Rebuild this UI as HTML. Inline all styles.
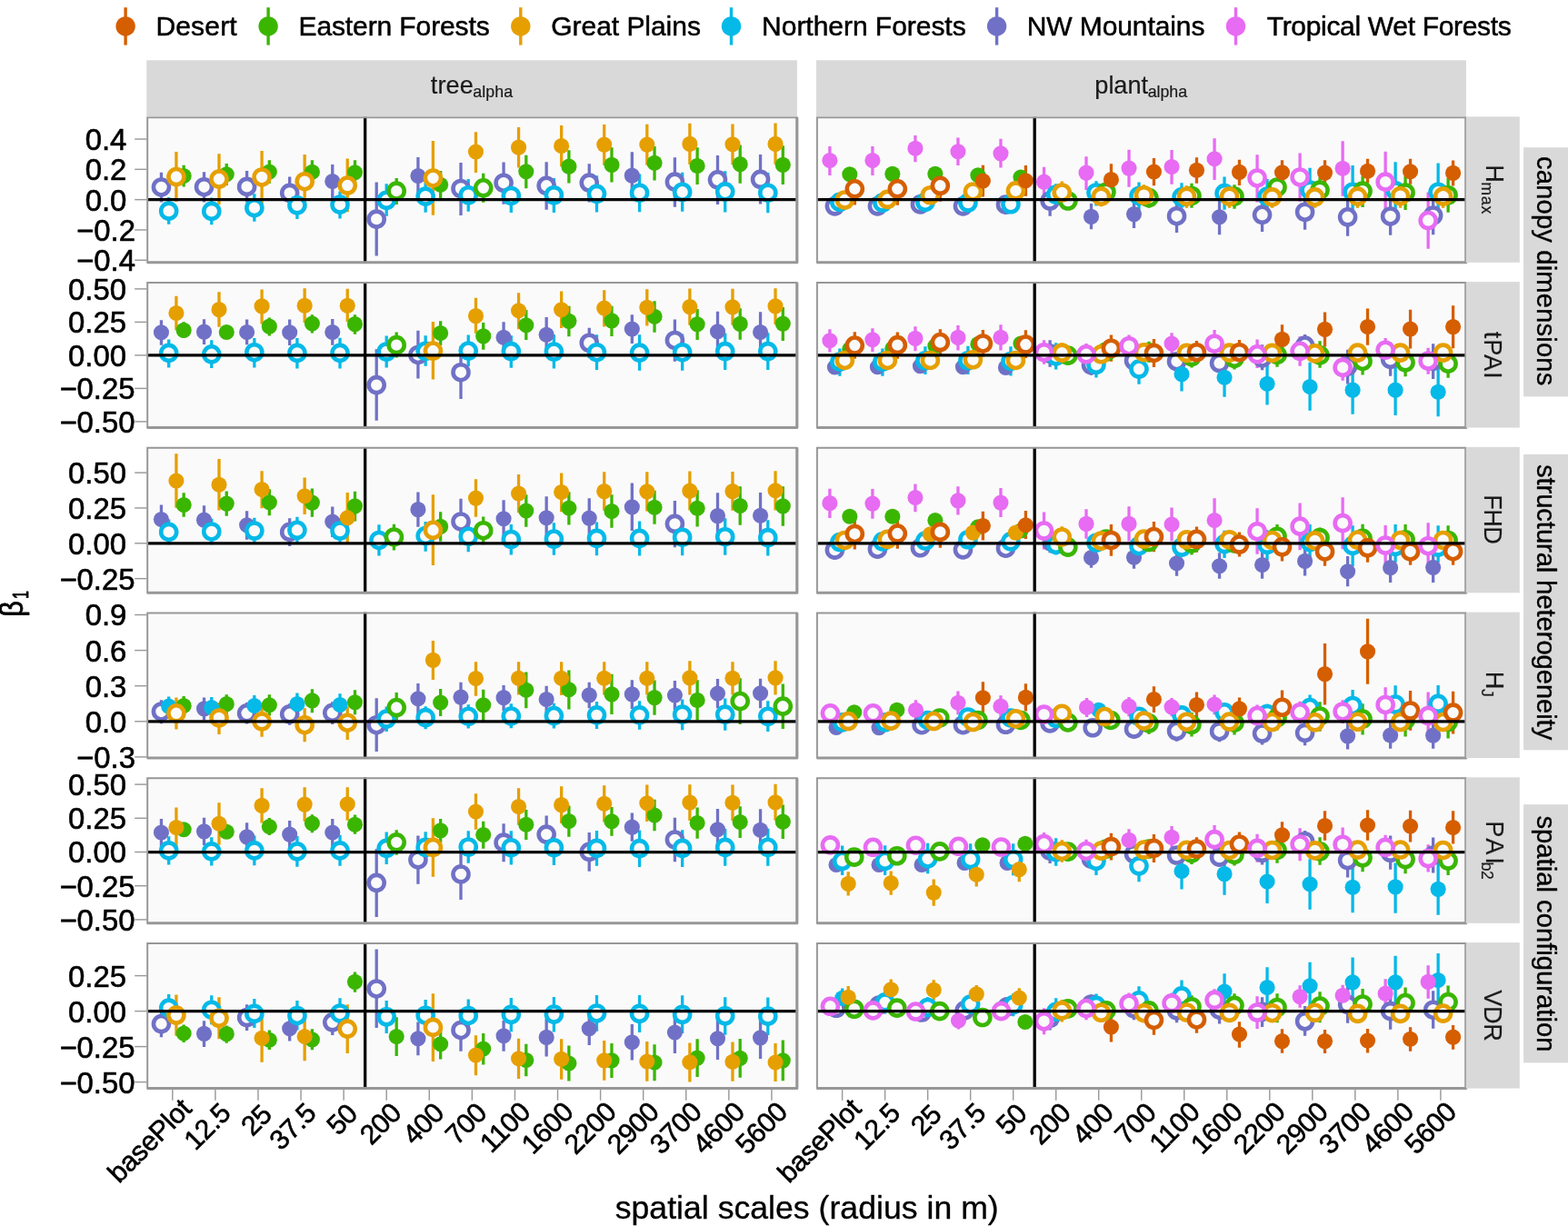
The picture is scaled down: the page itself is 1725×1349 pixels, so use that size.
<!DOCTYPE html>
<html lang="en"><head><meta charset="utf-8"><title>beta1 across spatial scales</title>
<style>html,body{margin:0;padding:0;background:#fff;overflow:hidden}svg{display:block}text{fill:#000;stroke:#000;stroke-width:0.6px;stroke-linejoin:round}.lg text{stroke-width:0.5px}.ti{stroke-width:0.35px}.bt{stroke-width:0.9px}.st text{fill:#1a1a1a;stroke:#1a1a1a;stroke-width:0.2px}.os text{stroke-width:0.35px}</style></head>
<body>
<svg width="1725" height="1349" viewBox="0 0 1725 1349" font-family='"Liberation Sans", Arial, Helvetica, sans-serif'>
<rect width="1725" height="1349" fill="#fff"/>
<g class="panel">
<rect x="161.3" y="128.45" width="715.5" height="160.25" fill="#FAFAFA"/>
<path d="M177.44 189.7V222.39M224.52 189.28V222.39M271.6 188.03V222.39M318.68 194.57V230.04M365.76 180.93V218.22M414.21 200.41V281.52M459.92 173V214.04M507 178.98V237M554.08 178.57V224.76M601.16 178.29V230.74M648.24 180.23V222.39M695.32 167.16V219.61M742.4 173.28V227.68M789.48 170.91V224.9M836.56 169.94V224.48" stroke="#7071C6" stroke-width="3.3" fill="none"/>
<path d="M185.68 217.1V246.74M232.76 217.52V247.16M279.84 213.35V243.68M326.92 210.57V240.9M374 210.57V240.48M425.2 202.22V237.7M468.16 198.74V233.8M515.24 197.07V232.83M562.32 197.07V233.94M609.4 195.96V233.94M656.48 193.17V233.52M703.56 191.5V233.24M750.64 189.7V232.83M797.72 188.3V233.52M844.8 190.11V234.22" stroke="#05B9E8" stroke-width="3.3" fill="none"/>
<path d="M202.16 181.77V205.42M249.24 179.96V204.03M296.32 176.2V201.8M343.4 176.2V202.22M390.48 176.2V202.91M436.19 195.96V224.9M484.64 187.89V217.94M531.72 190.81V222.81M578.8 170.63V207.37M625.88 165.35V201.52M672.96 162.29V200.41M720.04 160.9V198.46M767.12 162.29V202.91M814.2 159.5V201.8M861.28 160.2V202.91" stroke="#3AB600" stroke-width="3.3" fill="none"/>
<path d="M193.92 167.02V221.97M241 169.24V224.9M288.08 166.04V224.48M335.16 169.94V229.35M382.24 174.39V233.24M476.4 154.91V236.72M523.48 145.17V189.97M570.56 140.03V184.55M617.64 137.94V183.16M664.72 137.1V181.77M711.8 136.83V181.77M758.88 135.85V181.07M805.96 136.41V181.35M853.04 135.43V180.65" stroke="#E69F00" stroke-width="3.3" fill="none"/>
<g fill="#7071C6" stroke="#7071C6">
<circle cx="177.44" cy="205.97" r="8.5" fill="#FAFAFA" stroke-width="4.6"/>
<circle cx="224.52" cy="205.7" r="8.5" fill="#FAFAFA" stroke-width="4.6"/>
<circle cx="271.6" cy="205.42" r="8.5" fill="#FAFAFA" stroke-width="4.6"/>
<circle cx="318.68" cy="212.37" r="8.5" fill="#FAFAFA" stroke-width="4.6"/>
<circle cx="365.76" cy="199.43" r="8.55" stroke="none"/>
<circle cx="414.21" cy="241.17" r="8.5" fill="#FAFAFA" stroke-width="4.6"/>
<circle cx="459.92" cy="193.45" r="8.55" stroke="none"/>
<circle cx="507" cy="207.5" r="8.5" fill="#FAFAFA" stroke-width="4.6"/>
<circle cx="554.08" cy="201.24" r="8.5" fill="#FAFAFA" stroke-width="4.6"/>
<circle cx="601.16" cy="204.3" r="8.5" fill="#FAFAFA" stroke-width="4.6"/>
<circle cx="648.24" cy="201.1" r="8.5" fill="#FAFAFA" stroke-width="4.6"/>
<circle cx="695.32" cy="193.17" r="8.55" stroke="none"/>
<circle cx="742.4" cy="200.13" r="8.5" fill="#FAFAFA" stroke-width="4.6"/>
<circle cx="789.48" cy="197.77" r="8.5" fill="#FAFAFA" stroke-width="4.6"/>
<circle cx="836.56" cy="197.35" r="8.5" fill="#FAFAFA" stroke-width="4.6"/>
</g>
<g fill="#05B9E8" stroke="#05B9E8">
<circle cx="185.68" cy="232.13" r="8.5" fill="#FAFAFA" stroke-width="4.6"/>
<circle cx="232.76" cy="232.41" r="8.5" fill="#FAFAFA" stroke-width="4.6"/>
<circle cx="279.84" cy="228.65" r="8.5" fill="#FAFAFA" stroke-width="4.6"/>
<circle cx="326.92" cy="225.87" r="8.5" fill="#FAFAFA" stroke-width="4.6"/>
<circle cx="374" cy="225.17" r="8.5" fill="#FAFAFA" stroke-width="4.6"/>
<circle cx="425.2" cy="220.3" r="8.5" fill="#FAFAFA" stroke-width="4.6"/>
<circle cx="468.16" cy="216.13" r="8.5" fill="#FAFAFA" stroke-width="4.6"/>
<circle cx="515.24" cy="214.74" r="8.5" fill="#FAFAFA" stroke-width="4.6"/>
<circle cx="562.32" cy="215.43" r="8.5" fill="#FAFAFA" stroke-width="4.6"/>
<circle cx="609.4" cy="214.74" r="8.5" fill="#FAFAFA" stroke-width="4.6"/>
<circle cx="656.48" cy="213.35" r="8.5" fill="#FAFAFA" stroke-width="4.6"/>
<circle cx="703.56" cy="212.23" r="8.5" fill="#FAFAFA" stroke-width="4.6"/>
<circle cx="750.64" cy="211.26" r="8.5" fill="#FAFAFA" stroke-width="4.6"/>
<circle cx="797.72" cy="210.84" r="8.5" fill="#FAFAFA" stroke-width="4.6"/>
<circle cx="844.8" cy="212.23" r="8.5" fill="#FAFAFA" stroke-width="4.6"/>
</g>
<g fill="#3AB600" stroke="#3AB600">
<circle cx="202.16" cy="193.45" r="8.55" stroke="none"/>
<circle cx="249.24" cy="191.78" r="8.55" stroke="none"/>
<circle cx="296.32" cy="189" r="8.55" stroke="none"/>
<circle cx="343.4" cy="189.28" r="8.55" stroke="none"/>
<circle cx="390.48" cy="189.7" r="8.55" stroke="none"/>
<circle cx="436.19" cy="210.15" r="8.5" fill="#FAFAFA" stroke-width="4.6"/>
<circle cx="484.64" cy="203.19" r="8.55" stroke="none"/>
<circle cx="531.72" cy="206.81" r="8.5" fill="#FAFAFA" stroke-width="4.6"/>
<circle cx="578.8" cy="188.72" r="8.55" stroke="none"/>
<circle cx="625.88" cy="183.16" r="8.55" stroke="none"/>
<circle cx="672.96" cy="181.35" r="8.55" stroke="none"/>
<circle cx="720.04" cy="179.26" r="8.55" stroke="none"/>
<circle cx="767.12" cy="182.46" r="8.55" stroke="none"/>
<circle cx="814.2" cy="180.65" r="8.55" stroke="none"/>
<circle cx="861.28" cy="181.35" r="8.55" stroke="none"/>
</g>
<g fill="#E69F00" stroke="#E69F00">
<circle cx="193.92" cy="194.57" r="8.5" fill="#FAFAFA" stroke-width="4.6"/>
<circle cx="241" cy="197.07" r="8.5" fill="#FAFAFA" stroke-width="4.6"/>
<circle cx="288.08" cy="194.98" r="8.5" fill="#FAFAFA" stroke-width="4.6"/>
<circle cx="335.16" cy="199.71" r="8.5" fill="#FAFAFA" stroke-width="4.6"/>
<circle cx="382.24" cy="204.03" r="8.5" fill="#FAFAFA" stroke-width="4.6"/>
<circle cx="476.4" cy="195.96" r="8.5" fill="#FAFAFA" stroke-width="4.6"/>
<circle cx="523.48" cy="167.02" r="8.55" stroke="none"/>
<circle cx="570.56" cy="162.15" r="8.55" stroke="none"/>
<circle cx="617.64" cy="160.48" r="8.55" stroke="none"/>
<circle cx="664.72" cy="159.09" r="8.55" stroke="none"/>
<circle cx="711.8" cy="159.09" r="8.55" stroke="none"/>
<circle cx="758.88" cy="158.39" r="8.55" stroke="none"/>
<circle cx="805.96" cy="158.81" r="8.55" stroke="none"/>
<circle cx="853.04" cy="158.39" r="8.55" stroke="none"/>
</g>
<path d="M162.2 219.65H876.8" stroke="#000" stroke-width="3.25"/>
<path d="M401.66 128.45V288.7" stroke="#000" stroke-width="3.3"/>
<path d="M162.2 288.7V129.2H876.8" stroke="#979797" stroke-width="1.95" fill="none"/>
<path d="M162.8 288.7H876.8V129.85" stroke="#979797" stroke-width="3.15" fill="none" stroke-linejoin="round" stroke-linecap="round"/>
</g>
<g class="panel">
<rect x="898" y="128.45" width="714.8" height="160.25" fill="#FAFAFA"/>
<path d="M918.37 221.97V231.71M965.39 221.97V231.71M1012.41 220.03V229.77M1059.43 221.97V231.71M1106.45 220.3V230.04M1155.12 204.3V237.7M1200.49 224.06V252.3M1247.51 221V250.91M1294.53 222.39V256.06M1341.55 221V258.29M1388.57 221V255.09M1435.59 216.83V252.72M1482.61 221V259.68M1529.63 219.61V258.84M1576.65 218.22V258.29" stroke="#7071C6" stroke-width="3.3" fill="none"/>
<path d="M923.86 217.52V227.26M970.88 218.22V227.96M1017.9 217.52V227.26M1064.92 218.22V227.96M1111.94 219.89V229.63M1161.7 202.22V225.87M1205.98 199.16V226.57M1253 200.41V230.74M1300.02 201.24V228.65M1347.04 194.57V230.74M1394.06 197.07V234.91M1441.08 184.83V233.52M1488.1 182.04V240.48M1535.12 178.15V241.87M1582.14 179.54V243.26" stroke="#05B9E8" stroke-width="3.3" fill="none"/>
<path d="M934.83 186.91V196.65M981.85 186.5V196.23M1028.87 186.5V196.23M1075.89 187.89V197.63M1122.91 190.11V199.85M1174.87 216.13V225.87M1216.95 202.22V220.3M1263.97 206.39V228.65M1310.99 201.8V228.65M1358.01 203.19V229.63M1405.03 201.1V210.84M1452.05 195.26V222.39M1499.07 193.87V227.96M1546.09 193.87V231.02M1593.11 195.96V233.8" stroke="#3AB600" stroke-width="3.3" fill="none"/>
<path d="M929.34 215.16V224.9M976.36 214.46V224.2M1023.38 209.87V219.61M1070.4 206.11V215.85M1117.42 205V214.74M1168.28 199.43V224.48M1211.46 205V227.26M1258.48 203.19V226.57M1305.5 204.3V228.65M1352.52 205V228.65M1399.54 205V228.65M1446.56 205V228.65M1493.58 203.61V228.65M1540.6 202.77V228.65M1587.62 203.61V228.65" stroke="#E69F00" stroke-width="3.3" fill="none"/>
<path d="M940.31 190.11V225.45M987.33 189.7V225.87M1034.35 186.91V221.7M1081.37 181.77V216.41M1128.39 182.04V215.85M1222.43 180.37V214.04M1269.45 174.11V204.3M1316.47 173.28V201.8M1363.49 175.78V203.89M1410.51 176.2V202.91M1457.53 176.2V203.61M1504.55 174.81V201.52M1551.57 174.81V202.63M1598.59 176.48V204.58" stroke="#D55E00" stroke-width="3.3" fill="none"/>
<path d="M912.89 160.9V192.9M959.91 160.9V192.9M1006.93 148.93V178.15M1053.95 151.43V182.04M1100.97 152.83V184.55M1148.53 183.71V215.43M1195.01 172.3V208.9M1242.03 164.65V205.7M1289.05 165.07V202.63M1336.07 152.13V198.04M1383.09 170.22V222.39M1430.11 168.41V221.7M1477.13 155.19V215.85M1524.15 166.74V233.52M1571.17 211.54V273.87" stroke="#E76BF3" stroke-width="3.3" fill="none"/>
<g fill="#7071C6" stroke="#7071C6">
<circle cx="918.37" cy="226.84" r="8.5" fill="#FAFAFA" stroke-width="4.6"/>
<circle cx="965.39" cy="226.84" r="8.5" fill="#FAFAFA" stroke-width="4.6"/>
<circle cx="1012.41" cy="224.9" r="8.5" fill="#FAFAFA" stroke-width="4.6"/>
<circle cx="1059.43" cy="226.84" r="8.5" fill="#FAFAFA" stroke-width="4.6"/>
<circle cx="1106.45" cy="225.17" r="8.5" fill="#FAFAFA" stroke-width="4.6"/>
<circle cx="1155.12" cy="221" r="8.5" fill="#FAFAFA" stroke-width="4.6"/>
<circle cx="1200.49" cy="238.39" r="8.55" stroke="none"/>
<circle cx="1247.51" cy="235.61" r="8.55" stroke="none"/>
<circle cx="1294.53" cy="237.7" r="8.5" fill="#FAFAFA" stroke-width="4.6"/>
<circle cx="1341.55" cy="238.81" r="8.55" stroke="none"/>
<circle cx="1388.57" cy="236.3" r="8.5" fill="#FAFAFA" stroke-width="4.6"/>
<circle cx="1435.59" cy="233.24" r="8.5" fill="#FAFAFA" stroke-width="4.6"/>
<circle cx="1482.61" cy="238.81" r="8.5" fill="#FAFAFA" stroke-width="4.6"/>
<circle cx="1529.63" cy="237.97" r="8.5" fill="#FAFAFA" stroke-width="4.6"/>
<circle cx="1576.65" cy="237" r="8.5" fill="#FAFAFA" stroke-width="4.6"/>
</g>
<g fill="#05B9E8" stroke="#05B9E8">
<circle cx="923.86" cy="222.39" r="8.5" fill="#FAFAFA" stroke-width="4.6"/>
<circle cx="970.88" cy="223.09" r="8.5" fill="#FAFAFA" stroke-width="4.6"/>
<circle cx="1017.9" cy="222.39" r="8.5" fill="#FAFAFA" stroke-width="4.6"/>
<circle cx="1064.92" cy="223.09" r="8.5" fill="#FAFAFA" stroke-width="4.6"/>
<circle cx="1111.94" cy="224.76" r="8.5" fill="#FAFAFA" stroke-width="4.6"/>
<circle cx="1161.7" cy="214.04" r="8.5" fill="#FAFAFA" stroke-width="4.6"/>
<circle cx="1205.98" cy="211.96" r="8.5" fill="#FAFAFA" stroke-width="4.6"/>
<circle cx="1253" cy="215.43" r="8.5" fill="#FAFAFA" stroke-width="4.6"/>
<circle cx="1300.02" cy="216.83" r="8.5" fill="#FAFAFA" stroke-width="4.6"/>
<circle cx="1347.04" cy="212.65" r="8.5" fill="#FAFAFA" stroke-width="4.6"/>
<circle cx="1394.06" cy="216.13" r="8.5" fill="#FAFAFA" stroke-width="4.6"/>
<circle cx="1441.08" cy="209.17" r="8.5" fill="#FAFAFA" stroke-width="4.6"/>
<circle cx="1488.1" cy="211.26" r="8.5" fill="#FAFAFA" stroke-width="4.6"/>
<circle cx="1535.12" cy="209.87" r="8.5" fill="#FAFAFA" stroke-width="4.6"/>
<circle cx="1582.14" cy="211.26" r="8.5" fill="#FAFAFA" stroke-width="4.6"/>
</g>
<g fill="#3AB600" stroke="#3AB600">
<circle cx="934.83" cy="191.78" r="8.55" stroke="none"/>
<circle cx="981.85" cy="191.37" r="8.55" stroke="none"/>
<circle cx="1028.87" cy="191.37" r="8.55" stroke="none"/>
<circle cx="1075.89" cy="192.76" r="8.55" stroke="none"/>
<circle cx="1122.91" cy="194.98" r="8.55" stroke="none"/>
<circle cx="1174.87" cy="221" r="8.5" fill="#FAFAFA" stroke-width="4.6"/>
<circle cx="1216.95" cy="211.26" r="8.5" fill="#FAFAFA" stroke-width="4.6"/>
<circle cx="1263.97" cy="217.52" r="8.5" fill="#FAFAFA" stroke-width="4.6"/>
<circle cx="1310.99" cy="215.43" r="8.5" fill="#FAFAFA" stroke-width="4.6"/>
<circle cx="1358.01" cy="216.13" r="8.5" fill="#FAFAFA" stroke-width="4.6"/>
<circle cx="1405.03" cy="205.97" r="8.5" fill="#FAFAFA" stroke-width="4.6"/>
<circle cx="1452.05" cy="209.17" r="8.5" fill="#FAFAFA" stroke-width="4.6"/>
<circle cx="1499.07" cy="210.15" r="8.5" fill="#FAFAFA" stroke-width="4.6"/>
<circle cx="1546.09" cy="211.96" r="8.5" fill="#FAFAFA" stroke-width="4.6"/>
<circle cx="1593.11" cy="214.74" r="8.5" fill="#FAFAFA" stroke-width="4.6"/>
</g>
<g fill="#E69F00" stroke="#E69F00">
<circle cx="929.34" cy="220.03" r="8.5" fill="#FAFAFA" stroke-width="4.6"/>
<circle cx="976.36" cy="219.33" r="8.5" fill="#FAFAFA" stroke-width="4.6"/>
<circle cx="1023.38" cy="214.74" r="8.5" fill="#FAFAFA" stroke-width="4.6"/>
<circle cx="1070.4" cy="210.98" r="8.5" fill="#FAFAFA" stroke-width="4.6"/>
<circle cx="1117.42" cy="209.87" r="8.5" fill="#FAFAFA" stroke-width="4.6"/>
<circle cx="1168.28" cy="211.96" r="8.5" fill="#FAFAFA" stroke-width="4.6"/>
<circle cx="1211.46" cy="216.13" r="8.5" fill="#FAFAFA" stroke-width="4.6"/>
<circle cx="1258.48" cy="214.74" r="8.5" fill="#FAFAFA" stroke-width="4.6"/>
<circle cx="1305.5" cy="216.13" r="8.5" fill="#FAFAFA" stroke-width="4.6"/>
<circle cx="1352.52" cy="216.13" r="8.5" fill="#FAFAFA" stroke-width="4.6"/>
<circle cx="1399.54" cy="216.83" r="8.5" fill="#FAFAFA" stroke-width="4.6"/>
<circle cx="1446.56" cy="216.83" r="8.5" fill="#FAFAFA" stroke-width="4.6"/>
<circle cx="1493.58" cy="216.13" r="8.5" fill="#FAFAFA" stroke-width="4.6"/>
<circle cx="1540.6" cy="215.71" r="8.5" fill="#FAFAFA" stroke-width="4.6"/>
<circle cx="1587.62" cy="216.13" r="8.5" fill="#FAFAFA" stroke-width="4.6"/>
</g>
<g fill="#D55E00" stroke="#D55E00">
<circle cx="940.31" cy="207.78" r="8.5" fill="#FAFAFA" stroke-width="4.6"/>
<circle cx="987.33" cy="207.78" r="8.5" fill="#FAFAFA" stroke-width="4.6"/>
<circle cx="1034.35" cy="204.3" r="8.5" fill="#FAFAFA" stroke-width="4.6"/>
<circle cx="1081.37" cy="199.02" r="8.55" stroke="none"/>
<circle cx="1128.39" cy="198.74" r="8.55" stroke="none"/>
<circle cx="1222.43" cy="197.63" r="8.55" stroke="none"/>
<circle cx="1269.45" cy="189" r="8.55" stroke="none"/>
<circle cx="1316.47" cy="187.19" r="8.55" stroke="none"/>
<circle cx="1363.49" cy="189.42" r="8.55" stroke="none"/>
<circle cx="1410.51" cy="189.7" r="8.55" stroke="none"/>
<circle cx="1457.53" cy="190.11" r="8.55" stroke="none"/>
<circle cx="1504.55" cy="188.3" r="8.55" stroke="none"/>
<circle cx="1551.57" cy="188.72" r="8.55" stroke="none"/>
<circle cx="1598.59" cy="190.39" r="8.55" stroke="none"/>
</g>
<g fill="#E76BF3" stroke="#E76BF3">
<circle cx="912.89" cy="176.48" r="8.55" stroke="none"/>
<circle cx="959.91" cy="176.48" r="8.55" stroke="none"/>
<circle cx="1006.93" cy="163.26" r="8.55" stroke="none"/>
<circle cx="1053.95" cy="166.74" r="8.55" stroke="none"/>
<circle cx="1100.97" cy="168.83" r="8.55" stroke="none"/>
<circle cx="1148.53" cy="200.13" r="8.55" stroke="none"/>
<circle cx="1195.01" cy="190.11" r="8.55" stroke="none"/>
<circle cx="1242.03" cy="185.1" r="8.55" stroke="none"/>
<circle cx="1289.05" cy="183.43" r="8.55" stroke="none"/>
<circle cx="1336.07" cy="174.81" r="8.55" stroke="none"/>
<circle cx="1383.09" cy="195.96" r="8.5" fill="#FAFAFA" stroke-width="4.6"/>
<circle cx="1430.11" cy="194.98" r="8.5" fill="#FAFAFA" stroke-width="4.6"/>
<circle cx="1477.13" cy="185.24" r="8.55" stroke="none"/>
<circle cx="1524.15" cy="200.13" r="8.5" fill="#FAFAFA" stroke-width="4.6"/>
<circle cx="1571.17" cy="242.57" r="8.5" fill="#FAFAFA" stroke-width="4.6"/>
</g>
<path d="M898.9 219.65H1612.8" stroke="#000" stroke-width="3.25"/>
<path d="M1138.19 128.45V288.7" stroke="#000" stroke-width="3.3"/>
<path d="M898.9 288.7V129.2H1612.8" stroke="#979797" stroke-width="1.95" fill="none"/>
<path d="M899.5 288.7H1612.8V129.85" stroke="#979797" stroke-width="3.15" fill="none" stroke-linejoin="round" stroke-linecap="round"/>
</g>
<path d="M148.2 153.05H161.4" stroke="#9a9a9a" stroke-width="1.45"/>
<text x="116.5" y="164.95" font-size="32.9" text-anchor="middle">0.4</text>
<path d="M148.2 186.35H161.4" stroke="#9a9a9a" stroke-width="1.45"/>
<text x="116.5" y="198.25" font-size="32.9" text-anchor="middle">0.2</text>
<path d="M148.2 219.65H161.4" stroke="#9a9a9a" stroke-width="1.45"/>
<text x="116.5" y="231.55" font-size="32.9" text-anchor="middle">0.0</text>
<path d="M148.2 252.95H161.4" stroke="#9a9a9a" stroke-width="1.45"/>
<text x="116.5" y="264.85" font-size="32.9" text-anchor="middle">−0.2</text>
<path d="M148.2 286.25H161.4" stroke="#9a9a9a" stroke-width="1.45"/>
<text x="116.5" y="298.15" font-size="32.9" text-anchor="middle">−0.4</text>
<g class="panel">
<rect x="161.3" y="310.2" width="715.5" height="160.25" fill="#FAFAFA"/>
<path d="M177.44 352.22V379.63M224.52 351.24V379.07M271.6 351.52V379.35M318.68 351.52V380.04M365.76 351.1V379.77M414.21 384.22V462.83M459.92 363.63V416.5M507 380.74V438.9M554.08 354.3V388.39M601.16 349.02V387.7M648.24 360.84V393.96M695.32 346.23V377.96M742.4 351.52V397.71M789.48 342.76V386.3M836.56 343.17V387.7" stroke="#7071C6" stroke-width="3.3" fill="none"/>
<path d="M185.68 373.5V404.39M232.76 374.2V405.09M279.84 372.11V404.39M326.92 372.11V405.5M374 371.7V405.5M425.2 369.61V404.39M468.16 369.33V402.72M515.24 368.5V403M562.32 369.33V404.81M609.4 368.22V405.5M656.48 368.22V406.9M703.56 368.22V407.87M750.64 367.52V407.87M797.72 366.55V406.9M844.8 366.13V406.9" stroke="#05B9E8" stroke-width="3.3" fill="none"/>
<path d="M202.16 354.3V372.11M249.24 360.57V370.3M296.32 349.43V369.61M343.4 346.23V366.55M390.48 346.23V367.8M436.19 365.43V393.54M484.64 353.33V380.04M531.72 355V384.63M578.8 341.09V374.06M625.88 336.63V370.3M672.96 336.63V369.89M720.04 331.35V365.85M767.12 340.11V374.06M814.2 339.28V373.78M861.28 338.03V374.9" stroke="#3AB600" stroke-width="3.3" fill="none"/>
<path d="M193.92 325.78V363.35M241 321.19V359.87M288.08 318.41V356.39M335.16 317.16V355M382.24 317.85V354.3M476.4 354.03V417.61M523.48 327.87V366.83M570.56 322.3V362.37M617.64 320.5V360.98M664.72 319.24V359.59M711.8 318.13V358.48M758.88 317.43V357.78M805.96 317.85V357.78M853.04 317.16V357.09" stroke="#E69F00" stroke-width="3.3" fill="none"/>
<g fill="#7071C6" stroke="#7071C6">
<circle cx="177.44" cy="365.71" r="8.55" stroke="none"/>
<circle cx="224.52" cy="365.16" r="8.55" stroke="none"/>
<circle cx="271.6" cy="365.43" r="8.55" stroke="none"/>
<circle cx="318.68" cy="365.71" r="8.55" stroke="none"/>
<circle cx="365.76" cy="365.43" r="8.55" stroke="none"/>
<circle cx="414.21" cy="423.59" r="8.5" fill="#FAFAFA" stroke-width="4.6"/>
<circle cx="459.92" cy="390.48" r="8.5" fill="#FAFAFA" stroke-width="4.6"/>
<circle cx="507" cy="409.68" r="8.5" fill="#FAFAFA" stroke-width="4.6"/>
<circle cx="554.08" cy="371.28" r="8.55" stroke="none"/>
<circle cx="601.16" cy="368.22" r="8.55" stroke="none"/>
<circle cx="648.24" cy="377.26" r="8.5" fill="#FAFAFA" stroke-width="4.6"/>
<circle cx="695.32" cy="361.96" r="8.55" stroke="none"/>
<circle cx="742.4" cy="374.48" r="8.5" fill="#FAFAFA" stroke-width="4.6"/>
<circle cx="789.48" cy="364.74" r="8.55" stroke="none"/>
<circle cx="836.56" cy="365.43" r="8.55" stroke="none"/>
</g>
<g fill="#05B9E8" stroke="#05B9E8">
<circle cx="185.68" cy="388.39" r="8.5" fill="#FAFAFA" stroke-width="4.6"/>
<circle cx="232.76" cy="389.78" r="8.5" fill="#FAFAFA" stroke-width="4.6"/>
<circle cx="279.84" cy="387.7" r="8.5" fill="#FAFAFA" stroke-width="4.6"/>
<circle cx="326.92" cy="388.39" r="8.5" fill="#FAFAFA" stroke-width="4.6"/>
<circle cx="374" cy="388.39" r="8.5" fill="#FAFAFA" stroke-width="4.6"/>
<circle cx="425.2" cy="387" r="8.5" fill="#FAFAFA" stroke-width="4.6"/>
<circle cx="468.16" cy="386.3" r="8.5" fill="#FAFAFA" stroke-width="4.6"/>
<circle cx="515.24" cy="386.03" r="8.5" fill="#FAFAFA" stroke-width="4.6"/>
<circle cx="562.32" cy="386.58" r="8.5" fill="#FAFAFA" stroke-width="4.6"/>
<circle cx="609.4" cy="387" r="8.5" fill="#FAFAFA" stroke-width="4.6"/>
<circle cx="656.48" cy="387.7" r="8.5" fill="#FAFAFA" stroke-width="4.6"/>
<circle cx="703.56" cy="388.11" r="8.5" fill="#FAFAFA" stroke-width="4.6"/>
<circle cx="750.64" cy="387.7" r="8.5" fill="#FAFAFA" stroke-width="4.6"/>
<circle cx="797.72" cy="386.58" r="8.5" fill="#FAFAFA" stroke-width="4.6"/>
<circle cx="844.8" cy="386.58" r="8.5" fill="#FAFAFA" stroke-width="4.6"/>
</g>
<g fill="#3AB600" stroke="#3AB600">
<circle cx="202.16" cy="363.35" r="8.55" stroke="none"/>
<circle cx="249.24" cy="365.43" r="8.55" stroke="none"/>
<circle cx="296.32" cy="359.17" r="8.55" stroke="none"/>
<circle cx="343.4" cy="355.97" r="8.55" stroke="none"/>
<circle cx="390.48" cy="356.67" r="8.55" stroke="none"/>
<circle cx="436.19" cy="379.63" r="8.5" fill="#FAFAFA" stroke-width="4.6"/>
<circle cx="484.64" cy="366.55" r="8.55" stroke="none"/>
<circle cx="531.72" cy="369.89" r="8.55" stroke="none"/>
<circle cx="578.8" cy="357.78" r="8.55" stroke="none"/>
<circle cx="625.88" cy="353.33" r="8.55" stroke="none"/>
<circle cx="672.96" cy="352.91" r="8.55" stroke="none"/>
<circle cx="720.04" cy="348.32" r="8.55" stroke="none"/>
<circle cx="767.12" cy="356.81" r="8.55" stroke="none"/>
<circle cx="814.2" cy="356.39" r="8.55" stroke="none"/>
<circle cx="861.28" cy="356.11" r="8.55" stroke="none"/>
</g>
<g fill="#E69F00" stroke="#E69F00">
<circle cx="193.92" cy="344.57" r="8.55" stroke="none"/>
<circle cx="241" cy="340.67" r="8.55" stroke="none"/>
<circle cx="288.08" cy="336.91" r="8.55" stroke="none"/>
<circle cx="335.16" cy="336.22" r="8.55" stroke="none"/>
<circle cx="382.24" cy="336.22" r="8.55" stroke="none"/>
<circle cx="476.4" cy="386.03" r="8.5" fill="#FAFAFA" stroke-width="4.6"/>
<circle cx="523.48" cy="347.63" r="8.55" stroke="none"/>
<circle cx="570.56" cy="341.78" r="8.55" stroke="none"/>
<circle cx="617.64" cy="340.81" r="8.55" stroke="none"/>
<circle cx="664.72" cy="339" r="8.55" stroke="none"/>
<circle cx="711.8" cy="338.3" r="8.55" stroke="none"/>
<circle cx="758.88" cy="337.61" r="8.55" stroke="none"/>
<circle cx="805.96" cy="337.89" r="8.55" stroke="none"/>
<circle cx="853.04" cy="336.91" r="8.55" stroke="none"/>
</g>
<path d="M162.2 390.9H876.8" stroke="#000" stroke-width="3.25"/>
<path d="M401.66 310.2V470.45" stroke="#000" stroke-width="3.3"/>
<path d="M162.2 470.45V310.95H876.8" stroke="#979797" stroke-width="1.95" fill="none"/>
<path d="M162.8 470.45H876.8V311.6" stroke="#979797" stroke-width="3.15" fill="none" stroke-linejoin="round" stroke-linecap="round"/>
</g>
<g class="panel">
<rect x="898" y="310.2" width="714.8" height="160.25" fill="#FAFAFA"/>
<path d="M918.37 399.1V408.84M965.39 398.83V408.57M1012.41 397.85V407.59M1059.43 398.83V408.57M1106.45 399.52V409.26M1155.12 374.2V403.7M1200.49 390.48V412.74M1247.51 391.87V401.61M1294.53 392.84V402.58M1341.55 394.65V404.39M1388.57 379.35V407.17M1435.59 367.94V392.15M1482.61 384.63V422.48M1529.63 376.84V413.85M1576.65 378.23V416.91" stroke="#7071C6" stroke-width="3.3" fill="none"/>
<path d="M923.86 383.52V413.85M970.88 383.52V413.85M1017.9 381.16V412.04M1064.92 380.74V412.04M1111.94 381.16V413.43M1161.7 377.26V406.48M1205.98 387.14V415.52M1253 389.37V422.76M1300.02 393.26V430.41M1347.04 393.96V436.81M1394.06 398.83V445.43M1441.08 398.83V451.7M1488.1 403V455.87M1535.12 403V456.98M1582.14 404.39V458.37" stroke="#05B9E8" stroke-width="3.3" fill="none"/>
<path d="M934.83 379.35V389.09M981.85 378.65V388.39M1028.87 375.87V385.61M1075.89 373.78V383.52M1122.91 373.09V382.83M1174.87 386.3V396.04M1216.95 377.96V397.43M1263.97 375.87V398.83M1310.99 380.74V404.39M1358.01 382.27V406.48M1405.03 377.26V403.7M1452.05 375.17V404.81M1499.07 382.41V412.46M1546.09 383.52V414.13M1593.11 384.63V415.8" stroke="#3AB600" stroke-width="3.3" fill="none"/>
<path d="M929.34 391.59V401.33M976.36 391.59V401.33M1023.38 391.59V401.33M1070.4 390.9V400.63M1117.42 391.59V401.33M1168.28 377.26V398.83M1211.46 384.91V394.65M1258.48 382.83V392.57M1305.5 383.52V393.26M1352.52 383.24V392.98M1399.54 383.52V393.26M1446.56 383.94V393.68M1493.58 383.24V392.98M1540.6 383.24V392.98M1587.62 383.24V392.98" stroke="#E69F00" stroke-width="3.3" fill="none"/>
<path d="M940.31 365.16V394.65M987.33 365.43V394.65M1034.35 362.37V390.48M1081.37 363.07V392.57M1128.39 363.35V393.96M1222.43 368.5V397.71M1269.45 373.09V404.11M1316.47 374.9V400.5M1363.49 374.06V401.61M1410.51 357.37V389.09M1457.53 343.45V381.43M1504.55 339.42V379.63M1551.57 340.81V383.52M1598.59 336.22V383.24" stroke="#D55E00" stroke-width="3.3" fill="none"/>
<path d="M912.89 362.37V387.42M959.91 361.26V387M1006.93 359.17V386.3M1053.95 358.06V385.61M1100.97 357.37V385.61M1148.53 374.2V400.63M1195.01 377.96V400.22M1242.03 368.5V392.57M1289.05 366.13V389.78M1336.07 363.07V393.26M1383.09 373.5V405.09M1430.11 370.3V402.72M1477.13 390.06V418.72M1524.15 372.11V397.43M1571.17 382.83V411.63" stroke="#E76BF3" stroke-width="3.3" fill="none"/>
<g fill="#7071C6" stroke="#7071C6">
<circle cx="918.37" cy="403.97" r="8.55" stroke="none"/>
<circle cx="965.39" cy="403.7" r="8.55" stroke="none"/>
<circle cx="1012.41" cy="402.72" r="8.55" stroke="none"/>
<circle cx="1059.43" cy="403.7" r="8.55" stroke="none"/>
<circle cx="1106.45" cy="404.39" r="8.55" stroke="none"/>
<circle cx="1155.12" cy="389.09" r="8.5" fill="#FAFAFA" stroke-width="4.6"/>
<circle cx="1200.49" cy="401.61" r="8.5" fill="#FAFAFA" stroke-width="4.6"/>
<circle cx="1247.51" cy="396.74" r="8.5" fill="#FAFAFA" stroke-width="4.6"/>
<circle cx="1294.53" cy="397.71" r="8.5" fill="#FAFAFA" stroke-width="4.6"/>
<circle cx="1341.55" cy="399.52" r="8.5" fill="#FAFAFA" stroke-width="4.6"/>
<circle cx="1388.57" cy="393.96" r="8.5" fill="#FAFAFA" stroke-width="4.6"/>
<circle cx="1435.59" cy="380.04" r="8.5" fill="#FAFAFA" stroke-width="4.6"/>
<circle cx="1482.61" cy="403" r="8.5" fill="#FAFAFA" stroke-width="4.6"/>
<circle cx="1529.63" cy="395.35" r="8.5" fill="#FAFAFA" stroke-width="4.6"/>
<circle cx="1576.65" cy="397.43" r="8.5" fill="#FAFAFA" stroke-width="4.6"/>
</g>
<g fill="#05B9E8" stroke="#05B9E8">
<circle cx="923.86" cy="398.13" r="8.5" fill="#FAFAFA" stroke-width="4.6"/>
<circle cx="970.88" cy="398.13" r="8.5" fill="#FAFAFA" stroke-width="4.6"/>
<circle cx="1017.9" cy="396.74" r="8.5" fill="#FAFAFA" stroke-width="4.6"/>
<circle cx="1064.92" cy="396.74" r="8.5" fill="#FAFAFA" stroke-width="4.6"/>
<circle cx="1111.94" cy="397.43" r="8.5" fill="#FAFAFA" stroke-width="4.6"/>
<circle cx="1161.7" cy="391.87" r="8.5" fill="#FAFAFA" stroke-width="4.6"/>
<circle cx="1205.98" cy="401.33" r="8.5" fill="#FAFAFA" stroke-width="4.6"/>
<circle cx="1253" cy="406.06" r="8.5" fill="#FAFAFA" stroke-width="4.6"/>
<circle cx="1300.02" cy="411.63" r="8.55" stroke="none"/>
<circle cx="1347.04" cy="415.24" r="8.55" stroke="none"/>
<circle cx="1394.06" cy="422.2" r="8.55" stroke="none"/>
<circle cx="1441.08" cy="425.54" r="8.55" stroke="none"/>
<circle cx="1488.1" cy="429.16" r="8.55" stroke="none"/>
<circle cx="1535.12" cy="429.16" r="8.55" stroke="none"/>
<circle cx="1582.14" cy="431.24" r="8.55" stroke="none"/>
</g>
<g fill="#3AB600" stroke="#3AB600">
<circle cx="934.83" cy="384.22" r="8.55" stroke="none"/>
<circle cx="981.85" cy="383.52" r="8.55" stroke="none"/>
<circle cx="1028.87" cy="380.74" r="8.55" stroke="none"/>
<circle cx="1075.89" cy="378.65" r="8.55" stroke="none"/>
<circle cx="1122.91" cy="377.96" r="8.55" stroke="none"/>
<circle cx="1174.87" cy="391.17" r="8.5" fill="#FAFAFA" stroke-width="4.6"/>
<circle cx="1216.95" cy="387" r="8.5" fill="#FAFAFA" stroke-width="4.6"/>
<circle cx="1263.97" cy="387.7" r="8.5" fill="#FAFAFA" stroke-width="4.6"/>
<circle cx="1310.99" cy="392.57" r="8.5" fill="#FAFAFA" stroke-width="4.6"/>
<circle cx="1358.01" cy="394.37" r="8.5" fill="#FAFAFA" stroke-width="4.6"/>
<circle cx="1405.03" cy="390.48" r="8.5" fill="#FAFAFA" stroke-width="4.6"/>
<circle cx="1452.05" cy="390.9" r="8.5" fill="#FAFAFA" stroke-width="4.6"/>
<circle cx="1499.07" cy="397.43" r="8.5" fill="#FAFAFA" stroke-width="4.6"/>
<circle cx="1546.09" cy="398.83" r="8.5" fill="#FAFAFA" stroke-width="4.6"/>
<circle cx="1593.11" cy="400.22" r="8.5" fill="#FAFAFA" stroke-width="4.6"/>
</g>
<g fill="#E69F00" stroke="#E69F00">
<circle cx="929.34" cy="396.46" r="8.5" fill="#FAFAFA" stroke-width="4.6"/>
<circle cx="976.36" cy="396.46" r="8.5" fill="#FAFAFA" stroke-width="4.6"/>
<circle cx="1023.38" cy="396.46" r="8.5" fill="#FAFAFA" stroke-width="4.6"/>
<circle cx="1070.4" cy="395.77" r="8.5" fill="#FAFAFA" stroke-width="4.6"/>
<circle cx="1117.42" cy="396.46" r="8.5" fill="#FAFAFA" stroke-width="4.6"/>
<circle cx="1168.28" cy="388.11" r="8.5" fill="#FAFAFA" stroke-width="4.6"/>
<circle cx="1211.46" cy="389.78" r="8.5" fill="#FAFAFA" stroke-width="4.6"/>
<circle cx="1258.48" cy="387.7" r="8.5" fill="#FAFAFA" stroke-width="4.6"/>
<circle cx="1305.5" cy="388.39" r="8.5" fill="#FAFAFA" stroke-width="4.6"/>
<circle cx="1352.52" cy="388.11" r="8.5" fill="#FAFAFA" stroke-width="4.6"/>
<circle cx="1399.54" cy="388.39" r="8.5" fill="#FAFAFA" stroke-width="4.6"/>
<circle cx="1446.56" cy="388.81" r="8.5" fill="#FAFAFA" stroke-width="4.6"/>
<circle cx="1493.58" cy="388.11" r="8.5" fill="#FAFAFA" stroke-width="4.6"/>
<circle cx="1540.6" cy="388.11" r="8.5" fill="#FAFAFA" stroke-width="4.6"/>
<circle cx="1587.62" cy="388.11" r="8.5" fill="#FAFAFA" stroke-width="4.6"/>
</g>
<g fill="#D55E00" stroke="#D55E00">
<circle cx="940.31" cy="380.04" r="8.5" fill="#FAFAFA" stroke-width="4.6"/>
<circle cx="987.33" cy="379.63" r="8.5" fill="#FAFAFA" stroke-width="4.6"/>
<circle cx="1034.35" cy="376.57" r="8.5" fill="#FAFAFA" stroke-width="4.6"/>
<circle cx="1081.37" cy="377.96" r="8.5" fill="#FAFAFA" stroke-width="4.6"/>
<circle cx="1128.39" cy="379.07" r="8.5" fill="#FAFAFA" stroke-width="4.6"/>
<circle cx="1222.43" cy="383.24" r="8.5" fill="#FAFAFA" stroke-width="4.6"/>
<circle cx="1269.45" cy="388.39" r="8.5" fill="#FAFAFA" stroke-width="4.6"/>
<circle cx="1316.47" cy="387.7" r="8.5" fill="#FAFAFA" stroke-width="4.6"/>
<circle cx="1363.49" cy="387.7" r="8.5" fill="#FAFAFA" stroke-width="4.6"/>
<circle cx="1410.51" cy="373.37" r="8.55" stroke="none"/>
<circle cx="1457.53" cy="362.37" r="8.55" stroke="none"/>
<circle cx="1504.55" cy="359.45" r="8.55" stroke="none"/>
<circle cx="1551.57" cy="361.96" r="8.55" stroke="none"/>
<circle cx="1598.59" cy="359.59" r="8.55" stroke="none"/>
</g>
<g fill="#E76BF3" stroke="#E76BF3">
<circle cx="912.89" cy="374.76" r="8.55" stroke="none"/>
<circle cx="959.91" cy="373.78" r="8.55" stroke="none"/>
<circle cx="1006.93" cy="372.39" r="8.55" stroke="none"/>
<circle cx="1053.95" cy="371.42" r="8.55" stroke="none"/>
<circle cx="1100.97" cy="371.28" r="8.55" stroke="none"/>
<circle cx="1148.53" cy="387.7" r="8.5" fill="#FAFAFA" stroke-width="4.6"/>
<circle cx="1195.01" cy="389.78" r="8.5" fill="#FAFAFA" stroke-width="4.6"/>
<circle cx="1242.03" cy="380.74" r="8.5" fill="#FAFAFA" stroke-width="4.6"/>
<circle cx="1289.05" cy="377.96" r="8.55" stroke="none"/>
<circle cx="1336.07" cy="378.23" r="8.5" fill="#FAFAFA" stroke-width="4.6"/>
<circle cx="1383.09" cy="389.78" r="8.5" fill="#FAFAFA" stroke-width="4.6"/>
<circle cx="1430.11" cy="386.3" r="8.5" fill="#FAFAFA" stroke-width="4.6"/>
<circle cx="1477.13" cy="404.39" r="8.5" fill="#FAFAFA" stroke-width="4.6"/>
<circle cx="1524.15" cy="385.19" r="8.5" fill="#FAFAFA" stroke-width="4.6"/>
<circle cx="1571.17" cy="397.16" r="8.5" fill="#FAFAFA" stroke-width="4.6"/>
</g>
<path d="M898.9 390.9H1612.8" stroke="#000" stroke-width="3.25"/>
<path d="M1138.19 310.2V470.45" stroke="#000" stroke-width="3.3"/>
<path d="M898.9 470.45V310.95H1612.8" stroke="#979797" stroke-width="1.95" fill="none"/>
<path d="M899.5 470.45H1612.8V311.6" stroke="#979797" stroke-width="3.15" fill="none" stroke-linejoin="round" stroke-linecap="round"/>
</g>
<path d="M148.2 317.9H161.4" stroke="#9a9a9a" stroke-width="1.45"/>
<text x="107.0" y="329.8" font-size="32.9" text-anchor="middle">0.50</text>
<path d="M148.2 354.4H161.4" stroke="#9a9a9a" stroke-width="1.45"/>
<text x="107.0" y="366.3" font-size="32.9" text-anchor="middle">0.25</text>
<path d="M148.2 390.9H161.4" stroke="#9a9a9a" stroke-width="1.45"/>
<text x="107.0" y="402.8" font-size="32.9" text-anchor="middle">0.00</text>
<path d="M148.2 427.4H161.4" stroke="#9a9a9a" stroke-width="1.45"/>
<text x="107.0" y="439.3" font-size="32.9" text-anchor="middle">−0.25</text>
<path d="M148.2 463.9H161.4" stroke="#9a9a9a" stroke-width="1.45"/>
<text x="107.0" y="475.8" font-size="32.9" text-anchor="middle">−0.50</text>
<g class="panel">
<rect x="161.3" y="491.95" width="715.5" height="160.25" fill="#FAFAFA"/>
<path d="M177.44 555.48V587.48M224.52 556.17V588.17M271.6 562.16V593.74M318.68 570.37V600.97M365.76 557.57V590.96M459.92 541.57V579.83M507 548.8V599.3M554.08 550.19V591.65M601.16 546.16V593.74M648.24 548.24V591.65M695.32 531.41V584M742.4 551.03V602.37M789.48 542.26V593.04M836.56 541.98V592.35" stroke="#7071C6" stroke-width="3.3" fill="none"/>
<path d="M185.68 571.48V599.3M232.76 570.78V599.3M279.84 569.67V597.91M326.92 568.7V597.91M374 570.09V597.91M416.96 577.32V611.55M468.16 573.98V606.68M515.24 573.15V607.37M562.32 577.04V610.43M609.4 575.37V610.71M656.48 574.54V611.13M703.56 573.57V611.55M750.64 571.34V611.13M797.72 570.37V610.71M844.8 572.17V611.55" stroke="#05B9E8" stroke-width="3.3" fill="none"/>
<path d="M202.16 542.26V568.7M249.24 540.45V567.72M296.32 538.37V567.3M343.4 537.39V568.7M390.48 540.87V573.57M433.44 576.63V605.57M484.64 563.13V595.83M531.72 568.42V599.3M578.8 544.35V579.83M625.88 541.15V577.46M672.96 544.35V580.8M720.04 539.76V576.63M767.12 539.2V579.55M814.2 535.3V577.74M861.28 535.3V578.71" stroke="#3AB600" stroke-width="3.3" fill="none"/>
<path d="M193.92 499.13V558.68M241 505.11V561.46M288.08 518.19V559.23M335.16 525.57V565.91M382.24 541.98V597.22M476.4 544.35V621.98M523.48 527.23V568.7M570.56 522.09V564.24M617.64 520.42V563.13M664.72 519.3V561.74M711.8 519.3V562.43M758.88 518.61V561.46M805.96 519.03V561.74M853.04 518.19V561.46" stroke="#E69F00" stroke-width="3.3" fill="none"/>
<g fill="#7071C6" stroke="#7071C6">
<circle cx="177.44" cy="571.48" r="8.55" stroke="none"/>
<circle cx="224.52" cy="572.17" r="8.55" stroke="none"/>
<circle cx="271.6" cy="577.74" r="8.55" stroke="none"/>
<circle cx="318.68" cy="585.39" r="8.5" fill="#FAFAFA" stroke-width="4.6"/>
<circle cx="365.76" cy="573.98" r="8.55" stroke="none"/>
<circle cx="459.92" cy="560.63" r="8.55" stroke="none"/>
<circle cx="507" cy="573.98" r="8.5" fill="#FAFAFA" stroke-width="4.6"/>
<circle cx="554.08" cy="570.78" r="8.55" stroke="none"/>
<circle cx="601.16" cy="569.81" r="8.55" stroke="none"/>
<circle cx="648.24" cy="570.09" r="8.55" stroke="none"/>
<circle cx="695.32" cy="557.84" r="8.55" stroke="none"/>
<circle cx="742.4" cy="576.35" r="8.5" fill="#FAFAFA" stroke-width="4.6"/>
<circle cx="789.48" cy="567.58" r="8.55" stroke="none"/>
<circle cx="836.56" cy="567.3" r="8.55" stroke="none"/>
</g>
<g fill="#05B9E8" stroke="#05B9E8">
<circle cx="185.68" cy="585.39" r="8.5" fill="#FAFAFA" stroke-width="4.6"/>
<circle cx="232.76" cy="584.97" r="8.5" fill="#FAFAFA" stroke-width="4.6"/>
<circle cx="279.84" cy="584" r="8.5" fill="#FAFAFA" stroke-width="4.6"/>
<circle cx="326.92" cy="583.3" r="8.5" fill="#FAFAFA" stroke-width="4.6"/>
<circle cx="374" cy="584" r="8.5" fill="#FAFAFA" stroke-width="4.6"/>
<circle cx="416.96" cy="594.43" r="8.5" fill="#FAFAFA" stroke-width="4.6"/>
<circle cx="468.16" cy="589.57" r="8.5" fill="#FAFAFA" stroke-width="4.6"/>
<circle cx="515.24" cy="590.26" r="8.5" fill="#FAFAFA" stroke-width="4.6"/>
<circle cx="562.32" cy="593.46" r="8.5" fill="#FAFAFA" stroke-width="4.6"/>
<circle cx="609.4" cy="593.04" r="8.5" fill="#FAFAFA" stroke-width="4.6"/>
<circle cx="656.48" cy="592.35" r="8.5" fill="#FAFAFA" stroke-width="4.6"/>
<circle cx="703.56" cy="592.35" r="8.5" fill="#FAFAFA" stroke-width="4.6"/>
<circle cx="750.64" cy="591.23" r="8.5" fill="#FAFAFA" stroke-width="4.6"/>
<circle cx="797.72" cy="590.68" r="8.5" fill="#FAFAFA" stroke-width="4.6"/>
<circle cx="844.8" cy="591.65" r="8.5" fill="#FAFAFA" stroke-width="4.6"/>
</g>
<g fill="#3AB600" stroke="#3AB600">
<circle cx="202.16" cy="555.48" r="8.55" stroke="none"/>
<circle cx="249.24" cy="554.09" r="8.55" stroke="none"/>
<circle cx="296.32" cy="552.7" r="8.55" stroke="none"/>
<circle cx="343.4" cy="553.11" r="8.55" stroke="none"/>
<circle cx="390.48" cy="556.87" r="8.55" stroke="none"/>
<circle cx="433.44" cy="590.96" r="8.5" fill="#FAFAFA" stroke-width="4.6"/>
<circle cx="484.64" cy="579.41" r="8.55" stroke="none"/>
<circle cx="531.72" cy="583.72" r="8.5" fill="#FAFAFA" stroke-width="4.6"/>
<circle cx="578.8" cy="562.02" r="8.55" stroke="none"/>
<circle cx="625.88" cy="558.96" r="8.55" stroke="none"/>
<circle cx="672.96" cy="562.43" r="8.55" stroke="none"/>
<circle cx="720.04" cy="558.26" r="8.55" stroke="none"/>
<circle cx="767.12" cy="559.23" r="8.55" stroke="none"/>
<circle cx="814.2" cy="556.45" r="8.55" stroke="none"/>
<circle cx="861.28" cy="556.87" r="8.55" stroke="none"/>
</g>
<g fill="#E69F00" stroke="#E69F00">
<circle cx="193.92" cy="529.04" r="8.55" stroke="none"/>
<circle cx="241" cy="533.22" r="8.55" stroke="none"/>
<circle cx="288.08" cy="538.5" r="8.55" stroke="none"/>
<circle cx="335.16" cy="545.74" r="8.55" stroke="none"/>
<circle cx="382.24" cy="569.81" r="8.55" stroke="none"/>
<circle cx="476.4" cy="583.3" r="8.5" fill="#FAFAFA" stroke-width="4.6"/>
<circle cx="523.48" cy="548.1" r="8.55" stroke="none"/>
<circle cx="570.56" cy="542.96" r="8.55" stroke="none"/>
<circle cx="617.64" cy="541.57" r="8.55" stroke="none"/>
<circle cx="664.72" cy="540.59" r="8.55" stroke="none"/>
<circle cx="711.8" cy="540.87" r="8.55" stroke="none"/>
<circle cx="758.88" cy="540.17" r="8.55" stroke="none"/>
<circle cx="805.96" cy="540.59" r="8.55" stroke="none"/>
<circle cx="853.04" cy="539.76" r="8.55" stroke="none"/>
</g>
<path d="M162.2 597.8H876.8" stroke="#000" stroke-width="3.25"/>
<path d="M401.66 491.95V652.2" stroke="#000" stroke-width="3.3"/>
<path d="M162.2 652.2V492.7H876.8" stroke="#979797" stroke-width="1.95" fill="none"/>
<path d="M162.8 652.2H876.8V493.35" stroke="#979797" stroke-width="3.15" fill="none" stroke-linejoin="round" stroke-linecap="round"/>
</g>
<g class="panel">
<rect x="898" y="491.95" width="714.8" height="160.25" fill="#FAFAFA"/>
<path d="M918.37 600.28V610.02M965.39 599.3V609.04M1012.41 597.91V607.65M1059.43 600V609.74M1106.45 598.33V608.07M1155.12 587.48V608.35M1200.49 602.64V624.63M1247.51 600.7V625.74M1294.53 605.7V633.81M1341.55 608.35V636.87M1388.57 606.26V636.87M1435.59 602.09V633.39M1482.61 612.1V645.22M1529.63 609.04V641.04M1576.65 609.04V641.04" stroke="#7071C6" stroke-width="3.3" fill="none"/>
<path d="M923.86 591.65V601.39M970.88 590.96V600.7M1017.9 590.26V600M1064.92 588.87V598.61M1111.94 590.96V600.7M1161.7 588.17V610.43M1205.98 592.35V602.09M1253 595.83V605.57M1300.02 597.22V606.96M1347.04 583.72V613.91M1394.06 583.3V616M1441.08 577.04V613.22M1488.1 578.16V622.96M1535.12 577.04V618.78M1582.14 578.16V618.78" stroke="#05B9E8" stroke-width="3.3" fill="none"/>
<path d="M934.83 563.41V573.15M981.85 563.41V573.15M1028.87 567.58V577.32M1075.89 574.96V584.7M1122.91 579.13V588.87M1174.87 597.22V606.96M1216.95 588.17V597.91M1263.97 591.65V601.39M1310.99 585.39V610.43M1358.01 593.04V602.78M1405.03 577.04V603.48M1452.05 580.52V602.78M1499.07 576.63V608.07M1546.09 577.04V610.43M1593.11 578.16V610.71" stroke="#3AB600" stroke-width="3.3" fill="none"/>
<path d="M929.34 589.57V599.3M976.36 588.45V598.19M1023.38 583.03V592.77M1070.4 581.22V590.96M1117.42 581.22V590.96M1168.28 579.13V602.78M1211.46 590.26V600M1258.48 588.17V597.91M1305.5 588.87V598.61M1352.52 588.87V598.61M1399.54 589.57V599.3M1446.56 589.98V599.72M1493.58 589.15V598.89M1540.6 589.57V599.3M1587.62 589.57V599.3" stroke="#E69F00" stroke-width="3.3" fill="none"/>
<path d="M940.31 570.37V604.59M987.33 570.37V603.76M1034.35 568V602.78M1081.37 562.85V594.43M1128.39 562.02V593.04M1222.43 577.04V611.83M1269.45 573.98V607.23M1316.47 579.41V607.65M1363.49 585.39V612.52M1410.51 586.23V617.39M1457.53 591.23V622.68M1504.55 586.78V618.78M1551.57 592.07V621.84M1598.59 591.51V621.84" stroke="#D55E00" stroke-width="3.3" fill="none"/>
<path d="M912.89 537.81V570.09M959.91 538.09V570.78M1006.93 532.52V563.13M1053.95 535.3V566.61M1100.97 536.97V568.97M1148.53 563.55V604.45M1195.01 560.35V592.63M1242.03 557.15V595.55M1289.05 558.54V595.55M1336.07 548.24V596.52M1383.09 559.23V609.74M1430.11 553.39V605.15M1477.13 547.13V604.17M1524.15 578.02V620.17M1571.17 575.23V620.17" stroke="#E76BF3" stroke-width="3.3" fill="none"/>
<g fill="#7071C6" stroke="#7071C6">
<circle cx="918.37" cy="605.15" r="8.5" fill="#FAFAFA" stroke-width="4.6"/>
<circle cx="965.39" cy="604.17" r="8.5" fill="#FAFAFA" stroke-width="4.6"/>
<circle cx="1012.41" cy="602.78" r="8.5" fill="#FAFAFA" stroke-width="4.6"/>
<circle cx="1059.43" cy="604.87" r="8.5" fill="#FAFAFA" stroke-width="4.6"/>
<circle cx="1106.45" cy="603.2" r="8.5" fill="#FAFAFA" stroke-width="4.6"/>
<circle cx="1155.12" cy="597.91" r="8.55" stroke="none"/>
<circle cx="1200.49" cy="613.63" r="8.55" stroke="none"/>
<circle cx="1247.51" cy="613.22" r="8.55" stroke="none"/>
<circle cx="1294.53" cy="619.76" r="8.55" stroke="none"/>
<circle cx="1341.55" cy="622.68" r="8.55" stroke="none"/>
<circle cx="1388.57" cy="621.57" r="8.55" stroke="none"/>
<circle cx="1435.59" cy="617.39" r="8.55" stroke="none"/>
<circle cx="1482.61" cy="628.8" r="8.55" stroke="none"/>
<circle cx="1529.63" cy="624.63" r="8.55" stroke="none"/>
<circle cx="1576.65" cy="624.35" r="8.55" stroke="none"/>
</g>
<g fill="#05B9E8" stroke="#05B9E8">
<circle cx="923.86" cy="596.52" r="8.5" fill="#FAFAFA" stroke-width="4.6"/>
<circle cx="970.88" cy="595.83" r="8.5" fill="#FAFAFA" stroke-width="4.6"/>
<circle cx="1017.9" cy="595.13" r="8.5" fill="#FAFAFA" stroke-width="4.6"/>
<circle cx="1064.92" cy="593.74" r="8.5" fill="#FAFAFA" stroke-width="4.6"/>
<circle cx="1111.94" cy="595.83" r="8.5" fill="#FAFAFA" stroke-width="4.6"/>
<circle cx="1161.7" cy="599.3" r="8.5" fill="#FAFAFA" stroke-width="4.6"/>
<circle cx="1205.98" cy="597.22" r="8.5" fill="#FAFAFA" stroke-width="4.6"/>
<circle cx="1253" cy="600.7" r="8.5" fill="#FAFAFA" stroke-width="4.6"/>
<circle cx="1300.02" cy="602.09" r="8.5" fill="#FAFAFA" stroke-width="4.6"/>
<circle cx="1347.04" cy="598.61" r="8.5" fill="#FAFAFA" stroke-width="4.6"/>
<circle cx="1394.06" cy="599.3" r="8.5" fill="#FAFAFA" stroke-width="4.6"/>
<circle cx="1441.08" cy="596.52" r="8.5" fill="#FAFAFA" stroke-width="4.6"/>
<circle cx="1488.1" cy="600.42" r="8.5" fill="#FAFAFA" stroke-width="4.6"/>
<circle cx="1535.12" cy="601.39" r="8.5" fill="#FAFAFA" stroke-width="4.6"/>
<circle cx="1582.14" cy="602.09" r="8.5" fill="#FAFAFA" stroke-width="4.6"/>
</g>
<g fill="#3AB600" stroke="#3AB600">
<circle cx="934.83" cy="568.28" r="8.55" stroke="none"/>
<circle cx="981.85" cy="568.28" r="8.55" stroke="none"/>
<circle cx="1028.87" cy="572.45" r="8.55" stroke="none"/>
<circle cx="1075.89" cy="579.83" r="8.55" stroke="none"/>
<circle cx="1122.91" cy="584" r="8.55" stroke="none"/>
<circle cx="1174.87" cy="602.09" r="8.5" fill="#FAFAFA" stroke-width="4.6"/>
<circle cx="1216.95" cy="593.04" r="8.5" fill="#FAFAFA" stroke-width="4.6"/>
<circle cx="1263.97" cy="596.52" r="8.5" fill="#FAFAFA" stroke-width="4.6"/>
<circle cx="1310.99" cy="597.91" r="8.5" fill="#FAFAFA" stroke-width="4.6"/>
<circle cx="1358.01" cy="597.91" r="8.5" fill="#FAFAFA" stroke-width="4.6"/>
<circle cx="1405.03" cy="590.26" r="8.5" fill="#FAFAFA" stroke-width="4.6"/>
<circle cx="1452.05" cy="591.65" r="8.5" fill="#FAFAFA" stroke-width="4.6"/>
<circle cx="1499.07" cy="592.35" r="8.5" fill="#FAFAFA" stroke-width="4.6"/>
<circle cx="1546.09" cy="593.74" r="8.5" fill="#FAFAFA" stroke-width="4.6"/>
<circle cx="1593.11" cy="594.43" r="8.5" fill="#FAFAFA" stroke-width="4.6"/>
</g>
<g fill="#E69F00" stroke="#E69F00">
<circle cx="929.34" cy="594.43" r="8.5" fill="#FAFAFA" stroke-width="4.6"/>
<circle cx="976.36" cy="593.32" r="8.5" fill="#FAFAFA" stroke-width="4.6"/>
<circle cx="1023.38" cy="587.9" r="8.55" stroke="none"/>
<circle cx="1070.4" cy="586.09" r="8.55" stroke="none"/>
<circle cx="1117.42" cy="586.09" r="8.55" stroke="none"/>
<circle cx="1168.28" cy="590.96" r="8.5" fill="#FAFAFA" stroke-width="4.6"/>
<circle cx="1211.46" cy="595.13" r="8.5" fill="#FAFAFA" stroke-width="4.6"/>
<circle cx="1258.48" cy="593.04" r="8.5" fill="#FAFAFA" stroke-width="4.6"/>
<circle cx="1305.5" cy="593.74" r="8.5" fill="#FAFAFA" stroke-width="4.6"/>
<circle cx="1352.52" cy="593.74" r="8.5" fill="#FAFAFA" stroke-width="4.6"/>
<circle cx="1399.54" cy="594.43" r="8.5" fill="#FAFAFA" stroke-width="4.6"/>
<circle cx="1446.56" cy="594.85" r="8.5" fill="#FAFAFA" stroke-width="4.6"/>
<circle cx="1493.58" cy="594.02" r="8.5" fill="#FAFAFA" stroke-width="4.6"/>
<circle cx="1540.6" cy="594.43" r="8.5" fill="#FAFAFA" stroke-width="4.6"/>
<circle cx="1587.62" cy="594.43" r="8.5" fill="#FAFAFA" stroke-width="4.6"/>
</g>
<g fill="#D55E00" stroke="#D55E00">
<circle cx="940.31" cy="587.48" r="8.5" fill="#FAFAFA" stroke-width="4.6"/>
<circle cx="987.33" cy="587.06" r="8.5" fill="#FAFAFA" stroke-width="4.6"/>
<circle cx="1034.35" cy="585.39" r="8.5" fill="#FAFAFA" stroke-width="4.6"/>
<circle cx="1081.37" cy="578.43" r="8.55" stroke="none"/>
<circle cx="1128.39" cy="577.74" r="8.55" stroke="none"/>
<circle cx="1222.43" cy="594.43" r="8.5" fill="#FAFAFA" stroke-width="4.6"/>
<circle cx="1269.45" cy="590.54" r="8.5" fill="#FAFAFA" stroke-width="4.6"/>
<circle cx="1316.47" cy="593.32" r="8.5" fill="#FAFAFA" stroke-width="4.6"/>
<circle cx="1363.49" cy="599.03" r="8.5" fill="#FAFAFA" stroke-width="4.6"/>
<circle cx="1410.51" cy="601.81" r="8.5" fill="#FAFAFA" stroke-width="4.6"/>
<circle cx="1457.53" cy="606.96" r="8.5" fill="#FAFAFA" stroke-width="4.6"/>
<circle cx="1504.55" cy="602.78" r="8.5" fill="#FAFAFA" stroke-width="4.6"/>
<circle cx="1551.57" cy="606.96" r="8.5" fill="#FAFAFA" stroke-width="4.6"/>
<circle cx="1598.59" cy="606.68" r="8.5" fill="#FAFAFA" stroke-width="4.6"/>
</g>
<g fill="#E76BF3" stroke="#E76BF3">
<circle cx="912.89" cy="553.67" r="8.55" stroke="none"/>
<circle cx="959.91" cy="554.09" r="8.55" stroke="none"/>
<circle cx="1006.93" cy="547.55" r="8.55" stroke="none"/>
<circle cx="1053.95" cy="550.89" r="8.55" stroke="none"/>
<circle cx="1100.97" cy="553.11" r="8.55" stroke="none"/>
<circle cx="1148.53" cy="584" r="8.5" fill="#FAFAFA" stroke-width="4.6"/>
<circle cx="1195.01" cy="576.35" r="8.55" stroke="none"/>
<circle cx="1242.03" cy="576.35" r="8.55" stroke="none"/>
<circle cx="1289.05" cy="577.04" r="8.55" stroke="none"/>
<circle cx="1336.07" cy="572.45" r="8.55" stroke="none"/>
<circle cx="1383.09" cy="584.7" r="8.5" fill="#FAFAFA" stroke-width="4.6"/>
<circle cx="1430.11" cy="579.13" r="8.5" fill="#FAFAFA" stroke-width="4.6"/>
<circle cx="1477.13" cy="575.65" r="8.5" fill="#FAFAFA" stroke-width="4.6"/>
<circle cx="1524.15" cy="600" r="8.5" fill="#FAFAFA" stroke-width="4.6"/>
<circle cx="1571.17" cy="600.7" r="8.5" fill="#FAFAFA" stroke-width="4.6"/>
</g>
<path d="M898.9 597.8H1612.8" stroke="#000" stroke-width="3.25"/>
<path d="M1138.19 491.95V652.2" stroke="#000" stroke-width="3.3"/>
<path d="M898.9 652.2V492.7H1612.8" stroke="#979797" stroke-width="1.95" fill="none"/>
<path d="M899.5 652.2H1612.8V493.35" stroke="#979797" stroke-width="3.15" fill="none" stroke-linejoin="round" stroke-linecap="round"/>
</g>
<path d="M148.2 520.1H161.4" stroke="#9a9a9a" stroke-width="1.45"/>
<text x="107.0" y="532" font-size="32.9" text-anchor="middle">0.50</text>
<path d="M148.2 558.95H161.4" stroke="#9a9a9a" stroke-width="1.45"/>
<text x="107.0" y="570.85" font-size="32.9" text-anchor="middle">0.25</text>
<path d="M148.2 597.8H161.4" stroke="#9a9a9a" stroke-width="1.45"/>
<text x="107.0" y="609.7" font-size="32.9" text-anchor="middle">0.00</text>
<path d="M148.2 636.65H161.4" stroke="#9a9a9a" stroke-width="1.45"/>
<text x="107.0" y="648.55" font-size="32.9" text-anchor="middle">−0.25</text>
<g class="panel">
<rect x="161.3" y="673.7" width="715.5" height="160.25" fill="#FAFAFA"/>
<path d="M177.44 770.17V796.33M224.52 767.39V792.43M271.6 772.96V796.61M318.68 774.35V797.72M365.76 772.26V796.89M414.21 768.37V826.94M459.92 752.09V785.48M507 750.7V783.39M554.08 753.9V782M601.16 754.87V784.09M648.24 750.7V779.22M695.32 748.19V779.91M742.4 748.89V781.3M789.48 746.94V779.22M836.56 746.8V779.22" stroke="#7071C6" stroke-width="3.3" fill="none"/>
<path d="M185.68 766.42V788.26M232.76 767.11V789.93M279.84 765.03V787.84M326.92 762.52V786.87M374 763.22V787.57M425.2 777.41V804.96M468.16 777.13V802.17M515.24 775.32V801.48M562.32 774.35V801.2M609.4 773.65V801.48M656.48 771.98V801.9M703.56 771.29V802.87M750.64 769.48V803.15M797.72 768.5V803.84M844.8 771.15V804.96" stroke="#05B9E8" stroke-width="3.3" fill="none"/>
<path d="M202.16 766V786.87M249.24 764.33V785.48M296.32 764.19V787.57M343.4 758.35V784.37M390.48 759.32V786.17M436.19 762.1V792.43M484.64 757.93V787.98M531.72 758.63V793.13M578.8 739.57V779.22M625.88 737.48V780.61M672.96 741.65V785.9M720.04 748.61V786.87M767.12 748.19V792.43M814.2 746.24V796.89M861.28 752.5V801.9" stroke="#3AB600" stroke-width="3.3" fill="none"/>
<path d="M193.92 767.39V802.45M241 772.96V808.02M288.08 777.13V810.8M335.16 779.22V816.37M382.24 777.13V814M476.4 705.06V747.91M523.48 728.16V765.72M570.56 728.16V764.61M617.64 728.16V764.89M664.72 728.16V764.61M711.8 728.16V764.61M758.88 727.32V764.61M805.96 728.16V764.61M853.04 727.32V764.61" stroke="#E69F00" stroke-width="3.3" fill="none"/>
<g fill="#7071C6" stroke="#7071C6">
<circle cx="177.44" cy="782.97" r="8.5" fill="#FAFAFA" stroke-width="4.6"/>
<circle cx="224.52" cy="779.91" r="8.55" stroke="none"/>
<circle cx="271.6" cy="784.78" r="8.5" fill="#FAFAFA" stroke-width="4.6"/>
<circle cx="318.68" cy="785.76" r="8.5" fill="#FAFAFA" stroke-width="4.6"/>
<circle cx="365.76" cy="784.37" r="8.5" fill="#FAFAFA" stroke-width="4.6"/>
<circle cx="414.21" cy="797.72" r="8.5" fill="#FAFAFA" stroke-width="4.6"/>
<circle cx="459.92" cy="768.78" r="8.55" stroke="none"/>
<circle cx="507" cy="767.11" r="8.55" stroke="none"/>
<circle cx="554.08" cy="767.67" r="8.55" stroke="none"/>
<circle cx="601.16" cy="769.48" r="8.55" stroke="none"/>
<circle cx="648.24" cy="764.89" r="8.55" stroke="none"/>
<circle cx="695.32" cy="763.91" r="8.55" stroke="none"/>
<circle cx="742.4" cy="765.03" r="8.55" stroke="none"/>
<circle cx="789.48" cy="762.94" r="8.55" stroke="none"/>
<circle cx="836.56" cy="762.8" r="8.55" stroke="none"/>
</g>
<g fill="#05B9E8" stroke="#05B9E8">
<circle cx="185.68" cy="777.13" r="8.55" stroke="none"/>
<circle cx="232.76" cy="778.52" r="8.55" stroke="none"/>
<circle cx="279.84" cy="776.43" r="8.55" stroke="none"/>
<circle cx="326.92" cy="774.63" r="8.55" stroke="none"/>
<circle cx="374" cy="775.46" r="8.55" stroke="none"/>
<circle cx="425.2" cy="791.04" r="8.5" fill="#FAFAFA" stroke-width="4.6"/>
<circle cx="468.16" cy="789.65" r="8.5" fill="#FAFAFA" stroke-width="4.6"/>
<circle cx="515.24" cy="788.26" r="8.5" fill="#FAFAFA" stroke-width="4.6"/>
<circle cx="562.32" cy="787.98" r="8.5" fill="#FAFAFA" stroke-width="4.6"/>
<circle cx="609.4" cy="787.57" r="8.5" fill="#FAFAFA" stroke-width="4.6"/>
<circle cx="656.48" cy="786.87" r="8.5" fill="#FAFAFA" stroke-width="4.6"/>
<circle cx="703.56" cy="786.87" r="8.5" fill="#FAFAFA" stroke-width="4.6"/>
<circle cx="750.64" cy="786.17" r="8.5" fill="#FAFAFA" stroke-width="4.6"/>
<circle cx="797.72" cy="786.17" r="8.5" fill="#FAFAFA" stroke-width="4.6"/>
<circle cx="844.8" cy="788.26" r="8.5" fill="#FAFAFA" stroke-width="4.6"/>
</g>
<g fill="#3AB600" stroke="#3AB600">
<circle cx="202.16" cy="776.43" r="8.55" stroke="none"/>
<circle cx="249.24" cy="774.63" r="8.55" stroke="none"/>
<circle cx="296.32" cy="775.74" r="8.55" stroke="none"/>
<circle cx="343.4" cy="770.87" r="8.55" stroke="none"/>
<circle cx="390.48" cy="772.68" r="8.55" stroke="none"/>
<circle cx="436.19" cy="778.52" r="8.5" fill="#FAFAFA" stroke-width="4.6"/>
<circle cx="484.64" cy="772.96" r="8.55" stroke="none"/>
<circle cx="531.72" cy="775.74" r="8.55" stroke="none"/>
<circle cx="578.8" cy="759.32" r="8.55" stroke="none"/>
<circle cx="625.88" cy="758.77" r="8.55" stroke="none"/>
<circle cx="672.96" cy="763.91" r="8.55" stroke="none"/>
<circle cx="720.04" cy="767.67" r="8.55" stroke="none"/>
<circle cx="767.12" cy="770.45" r="8.55" stroke="none"/>
<circle cx="814.2" cy="771.57" r="8.5" fill="#FAFAFA" stroke-width="4.6"/>
<circle cx="861.28" cy="777.13" r="8.5" fill="#FAFAFA" stroke-width="4.6"/>
</g>
<g fill="#E69F00" stroke="#E69F00">
<circle cx="193.92" cy="784.78" r="8.5" fill="#FAFAFA" stroke-width="4.6"/>
<circle cx="241" cy="789.93" r="8.5" fill="#FAFAFA" stroke-width="4.6"/>
<circle cx="288.08" cy="793.83" r="8.5" fill="#FAFAFA" stroke-width="4.6"/>
<circle cx="335.16" cy="797.72" r="8.5" fill="#FAFAFA" stroke-width="4.6"/>
<circle cx="382.24" cy="795.22" r="8.5" fill="#FAFAFA" stroke-width="4.6"/>
<circle cx="476.4" cy="726.35" r="8.55" stroke="none"/>
<circle cx="523.48" cy="746.52" r="8.55" stroke="none"/>
<circle cx="570.56" cy="746.24" r="8.55" stroke="none"/>
<circle cx="617.64" cy="746.24" r="8.55" stroke="none"/>
<circle cx="664.72" cy="746.24" r="8.55" stroke="none"/>
<circle cx="711.8" cy="746.24" r="8.55" stroke="none"/>
<circle cx="758.88" cy="745.83" r="8.55" stroke="none"/>
<circle cx="805.96" cy="746.24" r="8.55" stroke="none"/>
<circle cx="853.04" cy="745.83" r="8.55" stroke="none"/>
</g>
<path d="M162.2 793.8H876.8" stroke="#000" stroke-width="3.25"/>
<path d="M401.66 673.7V833.95" stroke="#000" stroke-width="3.3"/>
<path d="M162.2 833.95V674.45H876.8" stroke="#979797" stroke-width="1.95" fill="none"/>
<path d="M162.8 833.95H876.8V675.1" stroke="#979797" stroke-width="3.15" fill="none" stroke-linejoin="round" stroke-linecap="round"/>
</g>
<g class="panel">
<rect x="898" y="673.7" width="714.8" height="160.25" fill="#FAFAFA"/>
<path d="M920.02 795.63V805.37M967.04 795.91V805.65M1014.06 792.85V802.59M1059.43 792.85V802.59M1106.45 792.43V802.17M1155.12 791.04V800.78M1202.14 795.91V805.65M1247.51 797.3V807.04M1294.53 792.71V815.81M1341.55 792.99V816.37M1388.57 794.52V819.57M1435.59 792.43V820.26M1482.61 795.22V824.43M1529.63 795.22V823.74M1576.65 795.22V823.74" stroke="#7071C6" stroke-width="3.3" fill="none"/>
<path d="M926.6 789.93V799.67M973.62 789.93V799.67M1020.64 787.57V797.3M1064.92 784.09V793.83M1111.94 785.06V794.8M1161.7 785.48V795.22M1208.72 776.43V786.17M1253 783.39V793.13M1300.02 782V791.74M1347.04 778.94V788.68M1394.06 774.63V796.33M1441.08 764.61V792.43M1488.1 759.04V793.83M1535.12 754.17V795.91M1582.14 753.9V794.8" stroke="#05B9E8" stroke-width="3.3" fill="none"/>
<path d="M939.77 778.94V788.68M986.79 776.43V786.17M1033.81 785.06V794.8M1075.89 787.57V797.3M1122.91 787.57V797.3M1174.87 790.07V799.81M1221.89 787.57V797.3M1263.97 784.09V807.74M1310.99 784.09V810.52M1358.01 782V808.43M1405.03 775.74V803.57M1452.05 772.26V804.68M1499.07 774.35V808.43M1546.09 774.35V810.52M1593.11 776.43V812.61" stroke="#3AB600" stroke-width="3.3" fill="none"/>
<path d="M933.18 788.68V798.42M980.2 788.26V798M1027.22 788.68V798.42M1070.4 789.65V799.39M1117.42 785.9V795.63M1168.28 780.33V790.07M1215.3 783.67V793.41M1258.48 788.26V798M1305.5 789.37V799.11M1352.52 789.23V798.97M1399.54 789.65V799.39M1446.56 789.93V799.67M1493.58 789.37V799.11M1540.6 789.65V799.39M1587.62 789.65V799.39" stroke="#E69F00" stroke-width="3.3" fill="none"/>
<path d="M1081.37 750.28V785.48M1128.39 752.37V782.42M1269.45 755.15V784.09M1316.47 761.55V789.65M1363.49 767.39V793.13M1410.51 759.46V797.03M1457.53 707.98V775.46M1504.55 680.85V752.78M1551.57 760.02V803.84M1598.59 760.85V807.46" stroke="#D55E00" stroke-width="3.3" fill="none"/>
<path d="M913.43 779.91V789.65M960.45 779.91V789.65M1007.47 770.17V791.04M1053.95 760.43V786.17M1100.97 765.3V788.96M1148.53 781.3V791.04M1195.55 768.09V788.96M1242.03 767.11V788.26M1289.05 768.09V788.26M1336.07 764.61V786.17M1383.09 775.46V799.67M1430.11 771.84V795.91M1477.13 770.17V795.91M1524.15 756.26V795.22M1571.17 761.55V813.3" stroke="#E76BF3" stroke-width="3.3" fill="none"/>
<g fill="#7071C6" stroke="#7071C6">
<circle cx="920.02" cy="800.5" r="8.55" stroke="none"/>
<circle cx="967.04" cy="800.78" r="8.55" stroke="none"/>
<circle cx="1014.06" cy="797.72" r="8.5" fill="#FAFAFA" stroke-width="4.6"/>
<circle cx="1059.43" cy="797.72" r="8.5" fill="#FAFAFA" stroke-width="4.6"/>
<circle cx="1106.45" cy="797.3" r="8.5" fill="#FAFAFA" stroke-width="4.6"/>
<circle cx="1155.12" cy="795.91" r="8.5" fill="#FAFAFA" stroke-width="4.6"/>
<circle cx="1202.14" cy="800.78" r="8.5" fill="#FAFAFA" stroke-width="4.6"/>
<circle cx="1247.51" cy="802.17" r="8.5" fill="#FAFAFA" stroke-width="4.6"/>
<circle cx="1294.53" cy="804.26" r="8.5" fill="#FAFAFA" stroke-width="4.6"/>
<circle cx="1341.55" cy="804.68" r="8.5" fill="#FAFAFA" stroke-width="4.6"/>
<circle cx="1388.57" cy="807.04" r="8.5" fill="#FAFAFA" stroke-width="4.6"/>
<circle cx="1435.59" cy="806.35" r="8.5" fill="#FAFAFA" stroke-width="4.6"/>
<circle cx="1482.61" cy="809.83" r="8.55" stroke="none"/>
<circle cx="1529.63" cy="809.13" r="8.55" stroke="none"/>
<circle cx="1576.65" cy="809.13" r="8.55" stroke="none"/>
</g>
<g fill="#05B9E8" stroke="#05B9E8">
<circle cx="926.6" cy="794.8" r="8.5" fill="#FAFAFA" stroke-width="4.6"/>
<circle cx="973.62" cy="794.8" r="8.5" fill="#FAFAFA" stroke-width="4.6"/>
<circle cx="1020.64" cy="792.43" r="8.5" fill="#FAFAFA" stroke-width="4.6"/>
<circle cx="1064.92" cy="788.96" r="8.5" fill="#FAFAFA" stroke-width="4.6"/>
<circle cx="1111.94" cy="789.93" r="8.5" fill="#FAFAFA" stroke-width="4.6"/>
<circle cx="1161.7" cy="790.35" r="8.5" fill="#FAFAFA" stroke-width="4.6"/>
<circle cx="1208.72" cy="781.3" r="8.55" stroke="none"/>
<circle cx="1253" cy="788.26" r="8.5" fill="#FAFAFA" stroke-width="4.6"/>
<circle cx="1300.02" cy="786.87" r="8.5" fill="#FAFAFA" stroke-width="4.6"/>
<circle cx="1347.04" cy="783.81" r="8.5" fill="#FAFAFA" stroke-width="4.6"/>
<circle cx="1394.06" cy="785.48" r="8.5" fill="#FAFAFA" stroke-width="4.6"/>
<circle cx="1441.08" cy="778.52" r="8.5" fill="#FAFAFA" stroke-width="4.6"/>
<circle cx="1488.1" cy="776.43" r="8.5" fill="#FAFAFA" stroke-width="4.6"/>
<circle cx="1535.12" cy="775.04" r="8.5" fill="#FAFAFA" stroke-width="4.6"/>
<circle cx="1582.14" cy="774.35" r="8.5" fill="#FAFAFA" stroke-width="4.6"/>
</g>
<g fill="#3AB600" stroke="#3AB600">
<circle cx="939.77" cy="783.81" r="8.55" stroke="none"/>
<circle cx="986.79" cy="781.3" r="8.55" stroke="none"/>
<circle cx="1033.81" cy="789.93" r="8.5" fill="#FAFAFA" stroke-width="4.6"/>
<circle cx="1075.89" cy="792.43" r="8.5" fill="#FAFAFA" stroke-width="4.6"/>
<circle cx="1122.91" cy="792.43" r="8.5" fill="#FAFAFA" stroke-width="4.6"/>
<circle cx="1174.87" cy="794.94" r="8.5" fill="#FAFAFA" stroke-width="4.6"/>
<circle cx="1221.89" cy="792.43" r="8.5" fill="#FAFAFA" stroke-width="4.6"/>
<circle cx="1263.97" cy="795.91" r="8.5" fill="#FAFAFA" stroke-width="4.6"/>
<circle cx="1310.99" cy="797.3" r="8.5" fill="#FAFAFA" stroke-width="4.6"/>
<circle cx="1358.01" cy="795.22" r="8.5" fill="#FAFAFA" stroke-width="4.6"/>
<circle cx="1405.03" cy="789.65" r="8.5" fill="#FAFAFA" stroke-width="4.6"/>
<circle cx="1452.05" cy="787.98" r="8.5" fill="#FAFAFA" stroke-width="4.6"/>
<circle cx="1499.07" cy="791.04" r="8.5" fill="#FAFAFA" stroke-width="4.6"/>
<circle cx="1546.09" cy="792.43" r="8.5" fill="#FAFAFA" stroke-width="4.6"/>
<circle cx="1593.11" cy="794.52" r="8.5" fill="#FAFAFA" stroke-width="4.6"/>
</g>
<g fill="#E69F00" stroke="#E69F00">
<circle cx="933.18" cy="793.55" r="8.5" fill="#FAFAFA" stroke-width="4.6"/>
<circle cx="980.2" cy="793.13" r="8.5" fill="#FAFAFA" stroke-width="4.6"/>
<circle cx="1027.22" cy="793.55" r="8.5" fill="#FAFAFA" stroke-width="4.6"/>
<circle cx="1070.4" cy="794.52" r="8.5" fill="#FAFAFA" stroke-width="4.6"/>
<circle cx="1117.42" cy="790.77" r="8.5" fill="#FAFAFA" stroke-width="4.6"/>
<circle cx="1168.28" cy="785.2" r="8.5" fill="#FAFAFA" stroke-width="4.6"/>
<circle cx="1215.3" cy="788.54" r="8.5" fill="#FAFAFA" stroke-width="4.6"/>
<circle cx="1258.48" cy="793.13" r="8.5" fill="#FAFAFA" stroke-width="4.6"/>
<circle cx="1305.5" cy="794.24" r="8.5" fill="#FAFAFA" stroke-width="4.6"/>
<circle cx="1352.52" cy="794.1" r="8.5" fill="#FAFAFA" stroke-width="4.6"/>
<circle cx="1399.54" cy="794.52" r="8.5" fill="#FAFAFA" stroke-width="4.6"/>
<circle cx="1446.56" cy="794.8" r="8.5" fill="#FAFAFA" stroke-width="4.6"/>
<circle cx="1493.58" cy="794.24" r="8.5" fill="#FAFAFA" stroke-width="4.6"/>
<circle cx="1540.6" cy="794.52" r="8.5" fill="#FAFAFA" stroke-width="4.6"/>
<circle cx="1587.62" cy="794.52" r="8.5" fill="#FAFAFA" stroke-width="4.6"/>
</g>
<g fill="#D55E00" stroke="#D55E00">
<circle cx="1081.37" cy="767.81" r="8.55" stroke="none"/>
<circle cx="1128.39" cy="767.39" r="8.55" stroke="none"/>
<circle cx="1269.45" cy="769.48" r="8.55" stroke="none"/>
<circle cx="1316.47" cy="775.46" r="8.55" stroke="none"/>
<circle cx="1363.49" cy="779.91" r="8.55" stroke="none"/>
<circle cx="1410.51" cy="778.24" r="8.5" fill="#FAFAFA" stroke-width="4.6"/>
<circle cx="1457.53" cy="741.65" r="8.55" stroke="none"/>
<circle cx="1504.55" cy="716.89" r="8.55" stroke="none"/>
<circle cx="1551.57" cy="782" r="8.5" fill="#FAFAFA" stroke-width="4.6"/>
<circle cx="1598.59" cy="784.09" r="8.5" fill="#FAFAFA" stroke-width="4.6"/>
</g>
<g fill="#E76BF3" stroke="#E76BF3">
<circle cx="913.43" cy="784.78" r="8.5" fill="#FAFAFA" stroke-width="4.6"/>
<circle cx="960.45" cy="784.78" r="8.5" fill="#FAFAFA" stroke-width="4.6"/>
<circle cx="1007.47" cy="781.3" r="8.55" stroke="none"/>
<circle cx="1053.95" cy="773.23" r="8.55" stroke="none"/>
<circle cx="1100.97" cy="777.13" r="8.55" stroke="none"/>
<circle cx="1148.53" cy="786.17" r="8.5" fill="#FAFAFA" stroke-width="4.6"/>
<circle cx="1195.55" cy="778.24" r="8.55" stroke="none"/>
<circle cx="1242.03" cy="777.13" r="8.55" stroke="none"/>
<circle cx="1289.05" cy="777.83" r="8.55" stroke="none"/>
<circle cx="1336.07" cy="775.04" r="8.55" stroke="none"/>
<circle cx="1383.09" cy="787.57" r="8.5" fill="#FAFAFA" stroke-width="4.6"/>
<circle cx="1430.11" cy="783.81" r="8.5" fill="#FAFAFA" stroke-width="4.6"/>
<circle cx="1477.13" cy="782.97" r="8.5" fill="#FAFAFA" stroke-width="4.6"/>
<circle cx="1524.15" cy="775.46" r="8.5" fill="#FAFAFA" stroke-width="4.6"/>
<circle cx="1571.17" cy="787.57" r="8.5" fill="#FAFAFA" stroke-width="4.6"/>
</g>
<path d="M898.9 793.8H1612.8" stroke="#000" stroke-width="3.25"/>
<path d="M1138.19 673.7V833.95" stroke="#000" stroke-width="3.3"/>
<path d="M898.9 833.95V674.45H1612.8" stroke="#979797" stroke-width="1.95" fill="none"/>
<path d="M899.5 833.95H1612.8V675.1" stroke="#979797" stroke-width="3.15" fill="none" stroke-linejoin="round" stroke-linecap="round"/>
</g>
<path d="M148.2 676.5H161.4" stroke="#9a9a9a" stroke-width="1.45"/>
<text x="116.5" y="688.4" font-size="32.9" text-anchor="middle">0.9</text>
<path d="M148.2 715.6H161.4" stroke="#9a9a9a" stroke-width="1.45"/>
<text x="116.5" y="727.5" font-size="32.9" text-anchor="middle">0.6</text>
<path d="M148.2 754.7H161.4" stroke="#9a9a9a" stroke-width="1.45"/>
<text x="116.5" y="766.6" font-size="32.9" text-anchor="middle">0.3</text>
<path d="M148.2 793.8H161.4" stroke="#9a9a9a" stroke-width="1.45"/>
<text x="116.5" y="805.7" font-size="32.9" text-anchor="middle">0.0</text>
<path d="M148.2 832.9H161.4" stroke="#9a9a9a" stroke-width="1.45"/>
<text x="116.5" y="844.8" font-size="32.9" text-anchor="middle">−0.3</text>
<g class="panel">
<rect x="161.3" y="855.45" width="715.5" height="160.25" fill="#FAFAFA"/>
<path d="M177.44 901.11V931.3M224.52 899.72V929.91M271.6 905.29V936.87M318.68 903.06V933.39M365.76 901.11V931.3M414.21 934.09V1008.94M459.92 919.48V972.77M507 934.09V990.02M554.08 906.26V948.28M601.16 897.5V938.96M648.24 916V958.85M695.32 894.43V925.74M742.4 899.72V948.28M789.48 889.98V935.48M836.56 890.26V936.17" stroke="#7071C6" stroke-width="3.3" fill="none"/>
<path d="M185.68 920.17V951.48M232.76 921.15V952.45M279.84 919.48V952.17M326.92 919.9V953.84M374 918.78V952.87M425.2 915.58V951.06M468.16 915.3V949.39M515.24 914.33V949.81M562.32 914.33V951.48M609.4 913.91V951.9M656.48 913.91V952.87M703.56 913.5V953.98M750.64 913.22V953.98M797.72 912.1V952.87M844.8 911.83V952.87" stroke="#05B9E8" stroke-width="3.3" fill="none"/>
<path d="M202.16 907.93V917.67M249.24 910.43V920.17M296.32 900V919.06M343.4 896.24V916.28M390.48 896.52V917.67M436.19 913.22V940.77M484.64 901.11V927.13M531.72 903.76V933.67M578.8 890.96V923.93M625.88 886.5V920.87M672.96 887.9V919.76M720.04 879.83V914.33M767.12 888.45V922.68M814.2 887.2V921.98M861.28 885.39V922.96" stroke="#3AB600" stroke-width="3.3" fill="none"/>
<path d="M193.92 888.45V932M241 883.3V929.63M288.08 867.3V905.57M335.16 866.19V903.76M382.24 866.33V902.78M476.4 900.28V964.7M523.48 873.15V912.8M570.56 867.3V907.65M617.64 865.22V905.98M664.72 864.24V904.59M711.8 863.41V903.9M758.88 863.13V903.06M805.96 863.41V903.2M853.04 862.85V902.78" stroke="#E69F00" stroke-width="3.3" fill="none"/>
<g fill="#7071C6" stroke="#7071C6">
<circle cx="177.44" cy="916" r="8.55" stroke="none"/>
<circle cx="224.52" cy="914.89" r="8.55" stroke="none"/>
<circle cx="271.6" cy="920.87" r="8.55" stroke="none"/>
<circle cx="318.68" cy="918.09" r="8.55" stroke="none"/>
<circle cx="365.76" cy="916" r="8.55" stroke="none"/>
<circle cx="414.21" cy="971.37" r="8.5" fill="#FAFAFA" stroke-width="4.6"/>
<circle cx="459.92" cy="945.91" r="8.5" fill="#FAFAFA" stroke-width="4.6"/>
<circle cx="507" cy="961.91" r="8.5" fill="#FAFAFA" stroke-width="4.6"/>
<circle cx="554.08" cy="927.13" r="8.5" fill="#FAFAFA" stroke-width="4.6"/>
<circle cx="601.16" cy="918.09" r="8.5" fill="#FAFAFA" stroke-width="4.6"/>
<circle cx="648.24" cy="937.29" r="8.5" fill="#FAFAFA" stroke-width="4.6"/>
<circle cx="695.32" cy="910.16" r="8.55" stroke="none"/>
<circle cx="742.4" cy="923.93" r="8.5" fill="#FAFAFA" stroke-width="4.6"/>
<circle cx="789.48" cy="912.8" r="8.55" stroke="none"/>
<circle cx="836.56" cy="913.22" r="8.55" stroke="none"/>
</g>
<g fill="#05B9E8" stroke="#05B9E8">
<circle cx="185.68" cy="935.9" r="8.5" fill="#FAFAFA" stroke-width="4.6"/>
<circle cx="232.76" cy="936.87" r="8.5" fill="#FAFAFA" stroke-width="4.6"/>
<circle cx="279.84" cy="935.9" r="8.5" fill="#FAFAFA" stroke-width="4.6"/>
<circle cx="326.92" cy="936.87" r="8.5" fill="#FAFAFA" stroke-width="4.6"/>
<circle cx="374" cy="935.9" r="8.5" fill="#FAFAFA" stroke-width="4.6"/>
<circle cx="425.2" cy="933.39" r="8.5" fill="#FAFAFA" stroke-width="4.6"/>
<circle cx="468.16" cy="932.42" r="8.5" fill="#FAFAFA" stroke-width="4.6"/>
<circle cx="515.24" cy="932" r="8.5" fill="#FAFAFA" stroke-width="4.6"/>
<circle cx="562.32" cy="932.7" r="8.5" fill="#FAFAFA" stroke-width="4.6"/>
<circle cx="609.4" cy="932.7" r="8.5" fill="#FAFAFA" stroke-width="4.6"/>
<circle cx="656.48" cy="933.39" r="8.5" fill="#FAFAFA" stroke-width="4.6"/>
<circle cx="703.56" cy="933.67" r="8.5" fill="#FAFAFA" stroke-width="4.6"/>
<circle cx="750.64" cy="933.39" r="8.5" fill="#FAFAFA" stroke-width="4.6"/>
<circle cx="797.72" cy="932.42" r="8.5" fill="#FAFAFA" stroke-width="4.6"/>
<circle cx="844.8" cy="932.28" r="8.5" fill="#FAFAFA" stroke-width="4.6"/>
</g>
<g fill="#3AB600" stroke="#3AB600">
<circle cx="202.16" cy="912.8" r="8.55" stroke="none"/>
<circle cx="249.24" cy="915.3" r="8.55" stroke="none"/>
<circle cx="296.32" cy="909.46" r="8.55" stroke="none"/>
<circle cx="343.4" cy="905.98" r="8.55" stroke="none"/>
<circle cx="390.48" cy="907.23" r="8.55" stroke="none"/>
<circle cx="436.19" cy="926.85" r="8.5" fill="#FAFAFA" stroke-width="4.6"/>
<circle cx="484.64" cy="913.91" r="8.55" stroke="none"/>
<circle cx="531.72" cy="918.5" r="8.55" stroke="none"/>
<circle cx="578.8" cy="907.23" r="8.55" stroke="none"/>
<circle cx="625.88" cy="903.48" r="8.55" stroke="none"/>
<circle cx="672.96" cy="903.76" r="8.55" stroke="none"/>
<circle cx="720.04" cy="896.94" r="8.55" stroke="none"/>
<circle cx="767.12" cy="905.57" r="8.55" stroke="none"/>
<circle cx="814.2" cy="904.45" r="8.55" stroke="none"/>
<circle cx="861.28" cy="904.17" r="8.55" stroke="none"/>
</g>
<g fill="#E69F00" stroke="#E69F00">
<circle cx="193.92" cy="910.43" r="8.55" stroke="none"/>
<circle cx="241" cy="906.26" r="8.55" stroke="none"/>
<circle cx="288.08" cy="886.37" r="8.55" stroke="none"/>
<circle cx="335.16" cy="885.11" r="8.55" stroke="none"/>
<circle cx="382.24" cy="884.7" r="8.55" stroke="none"/>
<circle cx="476.4" cy="932.42" r="8.5" fill="#FAFAFA" stroke-width="4.6"/>
<circle cx="523.48" cy="893.04" r="8.55" stroke="none"/>
<circle cx="570.56" cy="887.48" r="8.55" stroke="none"/>
<circle cx="617.64" cy="885.67" r="8.55" stroke="none"/>
<circle cx="664.72" cy="884.28" r="8.55" stroke="none"/>
<circle cx="711.8" cy="883.72" r="8.55" stroke="none"/>
<circle cx="758.88" cy="883.03" r="8.55" stroke="none"/>
<circle cx="805.96" cy="883.3" r="8.55" stroke="none"/>
<circle cx="853.04" cy="882.89" r="8.55" stroke="none"/>
</g>
<path d="M162.2 937.5H876.8" stroke="#000" stroke-width="3.25"/>
<path d="M401.66 855.45V1015.7" stroke="#000" stroke-width="3.3"/>
<path d="M162.2 1015.7V856.2H876.8" stroke="#979797" stroke-width="1.95" fill="none"/>
<path d="M162.8 1015.7H876.8V856.85" stroke="#979797" stroke-width="3.15" fill="none" stroke-linejoin="round" stroke-linecap="round"/>
</g>
<g class="panel">
<rect x="898" y="855.45" width="714.8" height="160.25" fill="#FAFAFA"/>
<path d="M920.02 946.61V956.35M967.04 946.61V956.35M1014.06 946.61V956.35M1061.08 944.52V954.26M1108.1 944.52V954.26M1155.12 922.26V950.09M1200.49 940.35V950.09M1247.51 934.78V944.52M1294.53 936.17V945.91M1341.55 938.26V948M1388.57 925.04V951.48M1435.59 913.91V937.57M1482.61 927.83V965.39M1529.63 919.48V956.63M1576.65 921.57V960.52" stroke="#7071C6" stroke-width="3.3" fill="none"/>
<path d="M926.6 930.61V963.03M973.62 930.33V962.89M1020.64 927.83V961.22M1067.66 928.24V962.61M1114.68 928.24V963.3M1161.7 922.26V952.87M1205.98 931.72V962.89M1253 935.48V970.26M1300.02 938.26V978.61M1347.04 938.4V984.87M1394.06 946.61V993.91M1441.08 945.22V1000.87M1488.1 949.39V1004.35M1535.12 949.39V1004.77M1582.14 949.39V1006.71" stroke="#05B9E8" stroke-width="3.3" fill="none"/>
<path d="M939.77 938.26V948M986.79 936.87V946.61M1033.81 932V941.74M1080.83 925.04V934.78M1127.85 923.37V933.11M1174.87 932.28V942.02M1216.95 929.22V938.96M1263.97 929.22V938.96M1310.99 926.85V951.06M1358.01 928.24V952.45M1405.03 921.15V949.81M1452.05 921.15V951.76M1499.07 928.52V959.13M1546.09 929.77V961.22M1593.11 931.17V962.89" stroke="#3AB600" stroke-width="3.3" fill="none"/>
<path d="M933.18 959.13V985.57M980.2 958.43V984.87M1027.22 967.48V996.7M1074.24 948.83V975.55M1121.26 942.99V970.26M1168.28 924.35V948.7M1211.46 931.3V941.04M1258.48 930.19V939.93M1305.5 930.33V940.07M1352.52 930.61V940.35M1399.54 930.61V940.35M1446.56 931.03V940.77M1493.58 930.19V939.93M1540.6 930.19V939.93M1587.62 930.61V940.35" stroke="#E69F00" stroke-width="3.3" fill="none"/>
<path d="M1222.43 916.7V946.61M1269.45 918.09V948.97M1316.47 921.15V947.3M1363.49 915.58V942.43M1410.51 904.17V934.09M1457.53 892.35V924.63M1504.55 891.23V924.77M1551.57 891.65V926.43M1598.59 892.35V928.52" stroke="#D55E00" stroke-width="3.3" fill="none"/>
<path d="M913.43 925.04V934.78M960.45 927.41V937.15M1007.47 925.32V935.06M1054.49 926.43V936.17M1101.51 927.13V936.87M1148.53 916V941.04M1195.01 923.65V949.25M1242.03 912.24V936.17M1289.05 909.04V933.39M1336.07 908.07V939.23M1383.09 917.67V948.7M1430.11 911.13V947.3M1477.13 910.43V948M1524.15 918.78V946.05M1571.17 929.22V959.55" stroke="#E76BF3" stroke-width="3.3" fill="none"/>
<g fill="#7071C6" stroke="#7071C6">
<circle cx="920.02" cy="951.48" r="8.55" stroke="none"/>
<circle cx="967.04" cy="951.48" r="8.55" stroke="none"/>
<circle cx="1014.06" cy="951.48" r="8.55" stroke="none"/>
<circle cx="1061.08" cy="949.39" r="8.55" stroke="none"/>
<circle cx="1108.1" cy="949.39" r="8.55" stroke="none"/>
<circle cx="1155.12" cy="936.17" r="8.5" fill="#FAFAFA" stroke-width="4.6"/>
<circle cx="1200.49" cy="945.22" r="8.5" fill="#FAFAFA" stroke-width="4.6"/>
<circle cx="1247.51" cy="939.65" r="8.5" fill="#FAFAFA" stroke-width="4.6"/>
<circle cx="1294.53" cy="941.04" r="8.5" fill="#FAFAFA" stroke-width="4.6"/>
<circle cx="1341.55" cy="943.13" r="8.5" fill="#FAFAFA" stroke-width="4.6"/>
<circle cx="1388.57" cy="938.26" r="8.5" fill="#FAFAFA" stroke-width="4.6"/>
<circle cx="1435.59" cy="925.74" r="8.5" fill="#FAFAFA" stroke-width="4.6"/>
<circle cx="1482.61" cy="946.61" r="8.5" fill="#FAFAFA" stroke-width="4.6"/>
<circle cx="1529.63" cy="938.26" r="8.5" fill="#FAFAFA" stroke-width="4.6"/>
<circle cx="1576.65" cy="941.04" r="8.5" fill="#FAFAFA" stroke-width="4.6"/>
</g>
<g fill="#05B9E8" stroke="#05B9E8">
<circle cx="926.6" cy="947.3" r="8.5" fill="#FAFAFA" stroke-width="4.6"/>
<circle cx="973.62" cy="947.3" r="8.5" fill="#FAFAFA" stroke-width="4.6"/>
<circle cx="1020.64" cy="944.94" r="8.5" fill="#FAFAFA" stroke-width="4.6"/>
<circle cx="1067.66" cy="945.5" r="8.5" fill="#FAFAFA" stroke-width="4.6"/>
<circle cx="1114.68" cy="945.5" r="8.5" fill="#FAFAFA" stroke-width="4.6"/>
<circle cx="1161.7" cy="937.57" r="8.5" fill="#FAFAFA" stroke-width="4.6"/>
<circle cx="1205.98" cy="947.3" r="8.5" fill="#FAFAFA" stroke-width="4.6"/>
<circle cx="1253" cy="952.87" r="8.5" fill="#FAFAFA" stroke-width="4.6"/>
<circle cx="1300.02" cy="958.43" r="8.55" stroke="none"/>
<circle cx="1347.04" cy="961.63" r="8.55" stroke="none"/>
<circle cx="1394.06" cy="969.98" r="8.55" stroke="none"/>
<circle cx="1441.08" cy="972.77" r="8.55" stroke="none"/>
<circle cx="1488.1" cy="976.24" r="8.55" stroke="none"/>
<circle cx="1535.12" cy="975.83" r="8.55" stroke="none"/>
<circle cx="1582.14" cy="978.33" r="8.55" stroke="none"/>
</g>
<g fill="#3AB600" stroke="#3AB600">
<circle cx="939.77" cy="943.13" r="8.5" fill="#FAFAFA" stroke-width="4.6"/>
<circle cx="986.79" cy="941.74" r="8.5" fill="#FAFAFA" stroke-width="4.6"/>
<circle cx="1033.81" cy="936.87" r="8.5" fill="#FAFAFA" stroke-width="4.6"/>
<circle cx="1080.83" cy="929.91" r="8.55" stroke="none"/>
<circle cx="1127.85" cy="928.24" r="8.55" stroke="none"/>
<circle cx="1174.87" cy="937.15" r="8.5" fill="#FAFAFA" stroke-width="4.6"/>
<circle cx="1216.95" cy="934.09" r="8.5" fill="#FAFAFA" stroke-width="4.6"/>
<circle cx="1263.97" cy="934.09" r="8.5" fill="#FAFAFA" stroke-width="4.6"/>
<circle cx="1310.99" cy="938.96" r="8.5" fill="#FAFAFA" stroke-width="4.6"/>
<circle cx="1358.01" cy="940.35" r="8.5" fill="#FAFAFA" stroke-width="4.6"/>
<circle cx="1405.03" cy="935.48" r="8.5" fill="#FAFAFA" stroke-width="4.6"/>
<circle cx="1452.05" cy="936.87" r="8.5" fill="#FAFAFA" stroke-width="4.6"/>
<circle cx="1499.07" cy="943.83" r="8.5" fill="#FAFAFA" stroke-width="4.6"/>
<circle cx="1546.09" cy="945.5" r="8.5" fill="#FAFAFA" stroke-width="4.6"/>
<circle cx="1593.11" cy="947.03" r="8.5" fill="#FAFAFA" stroke-width="4.6"/>
</g>
<g fill="#E69F00" stroke="#E69F00">
<circle cx="933.18" cy="972.35" r="8.55" stroke="none"/>
<circle cx="980.2" cy="971.65" r="8.55" stroke="none"/>
<circle cx="1027.22" cy="982.09" r="8.55" stroke="none"/>
<circle cx="1074.24" cy="962.19" r="8.55" stroke="none"/>
<circle cx="1121.26" cy="956.63" r="8.55" stroke="none"/>
<circle cx="1168.28" cy="936.45" r="8.5" fill="#FAFAFA" stroke-width="4.6"/>
<circle cx="1211.46" cy="936.17" r="8.5" fill="#FAFAFA" stroke-width="4.6"/>
<circle cx="1258.48" cy="935.06" r="8.5" fill="#FAFAFA" stroke-width="4.6"/>
<circle cx="1305.5" cy="935.2" r="8.5" fill="#FAFAFA" stroke-width="4.6"/>
<circle cx="1352.52" cy="935.48" r="8.5" fill="#FAFAFA" stroke-width="4.6"/>
<circle cx="1399.54" cy="935.48" r="8.5" fill="#FAFAFA" stroke-width="4.6"/>
<circle cx="1446.56" cy="935.9" r="8.5" fill="#FAFAFA" stroke-width="4.6"/>
<circle cx="1493.58" cy="935.06" r="8.5" fill="#FAFAFA" stroke-width="4.6"/>
<circle cx="1540.6" cy="935.06" r="8.5" fill="#FAFAFA" stroke-width="4.6"/>
<circle cx="1587.62" cy="935.48" r="8.5" fill="#FAFAFA" stroke-width="4.6"/>
</g>
<g fill="#D55E00" stroke="#D55E00">
<circle cx="1222.43" cy="931.58" r="8.5" fill="#FAFAFA" stroke-width="4.6"/>
<circle cx="1269.45" cy="933.39" r="8.5" fill="#FAFAFA" stroke-width="4.6"/>
<circle cx="1316.47" cy="934.09" r="8.5" fill="#FAFAFA" stroke-width="4.6"/>
<circle cx="1363.49" cy="928.94" r="8.5" fill="#FAFAFA" stroke-width="4.6"/>
<circle cx="1410.51" cy="918.78" r="8.55" stroke="none"/>
<circle cx="1457.53" cy="908.63" r="8.55" stroke="none"/>
<circle cx="1504.55" cy="908.07" r="8.55" stroke="none"/>
<circle cx="1551.57" cy="909.04" r="8.55" stroke="none"/>
<circle cx="1598.59" cy="910.43" r="8.55" stroke="none"/>
</g>
<g fill="#E76BF3" stroke="#E76BF3">
<circle cx="913.43" cy="929.91" r="8.5" fill="#FAFAFA" stroke-width="4.6"/>
<circle cx="960.45" cy="932.28" r="8.5" fill="#FAFAFA" stroke-width="4.6"/>
<circle cx="1007.47" cy="930.19" r="8.5" fill="#FAFAFA" stroke-width="4.6"/>
<circle cx="1054.49" cy="931.3" r="8.5" fill="#FAFAFA" stroke-width="4.6"/>
<circle cx="1101.51" cy="932" r="8.5" fill="#FAFAFA" stroke-width="4.6"/>
<circle cx="1148.53" cy="928.52" r="8.5" fill="#FAFAFA" stroke-width="4.6"/>
<circle cx="1195.01" cy="936.45" r="8.5" fill="#FAFAFA" stroke-width="4.6"/>
<circle cx="1242.03" cy="924.35" r="8.55" stroke="none"/>
<circle cx="1289.05" cy="921.29" r="8.55" stroke="none"/>
<circle cx="1336.07" cy="923.65" r="8.5" fill="#FAFAFA" stroke-width="4.6"/>
<circle cx="1383.09" cy="933.39" r="8.5" fill="#FAFAFA" stroke-width="4.6"/>
<circle cx="1430.11" cy="928.94" r="8.5" fill="#FAFAFA" stroke-width="4.6"/>
<circle cx="1477.13" cy="929.22" r="8.5" fill="#FAFAFA" stroke-width="4.6"/>
<circle cx="1524.15" cy="932.42" r="8.5" fill="#FAFAFA" stroke-width="4.6"/>
<circle cx="1571.17" cy="944.52" r="8.5" fill="#FAFAFA" stroke-width="4.6"/>
</g>
<path d="M898.9 937.5H1612.8" stroke="#000" stroke-width="3.25"/>
<path d="M1138.19 855.45V1015.7" stroke="#000" stroke-width="3.3"/>
<path d="M898.9 1015.7V856.2H1612.8" stroke="#979797" stroke-width="1.95" fill="none"/>
<path d="M899.5 1015.7H1612.8V856.85" stroke="#979797" stroke-width="3.15" fill="none" stroke-linejoin="round" stroke-linecap="round"/>
</g>
<path d="M148.2 863.1H161.4" stroke="#9a9a9a" stroke-width="1.45"/>
<text x="107.0" y="875" font-size="32.9" text-anchor="middle">0.50</text>
<path d="M148.2 900.3H161.4" stroke="#9a9a9a" stroke-width="1.45"/>
<text x="107.0" y="912.2" font-size="32.9" text-anchor="middle">0.25</text>
<path d="M148.2 937.5H161.4" stroke="#9a9a9a" stroke-width="1.45"/>
<text x="107.0" y="949.4" font-size="32.9" text-anchor="middle">0.00</text>
<path d="M148.2 974.7H161.4" stroke="#9a9a9a" stroke-width="1.45"/>
<text x="107.0" y="986.6" font-size="32.9" text-anchor="middle">−0.25</text>
<path d="M148.2 1011.9H161.4" stroke="#9a9a9a" stroke-width="1.45"/>
<text x="107.0" y="1023.8" font-size="32.9" text-anchor="middle">−0.50</text>
<g class="panel">
<rect x="161.3" y="1037.2" width="715.5" height="160.25" fill="#FAFAFA"/>
<path d="M177.44 1111.91V1141.13M224.52 1123.32V1151.98M271.6 1105.37V1133.9M318.68 1118.17V1145.58M365.76 1110.8V1139.04M414.21 1044.43V1131.11M459.92 1124.43V1161.3M507 1110.52V1156.85M554.08 1123.04V1156.85M601.16 1120.96V1162.42M648.24 1114V1149.9M695.32 1126.94V1166.45M742.4 1113.3V1158.94M789.48 1119.57V1165.9M836.56 1118.87V1165.06" stroke="#7071C6" stroke-width="3.3" fill="none"/>
<path d="M185.68 1094.1V1124.43M232.76 1095.22V1127.22M279.84 1099.11V1130.97M326.92 1101.06V1133.48M374 1098.28V1131.39M425.2 1101.06V1136.96M468.16 1100.09V1134.17M515.24 1099.39V1135.57M562.32 1098V1135.29M609.4 1096.89V1135.57M656.48 1094.94V1134.87M703.56 1094.94V1135.98M750.64 1095.22V1136.96M797.72 1097.3V1138.63M844.8 1097.58V1139.04" stroke="#05B9E8" stroke-width="3.3" fill="none"/>
<path d="M202.16 1127.5V1146.97M249.24 1128.61V1147.81M296.32 1133.48V1155.04M343.4 1132.37V1155.32M390.48 1069.48V1091.74M436.19 1119.15V1162M484.64 1132.09V1165.48M531.72 1136.96V1171.46M578.8 1148.78V1184.26M625.88 1150.59V1189.55M672.96 1148.09V1185.93M720.04 1149.2V1189.13M767.12 1143.22V1184.96M814.2 1142.94V1185.65M861.28 1144.61V1189.13" stroke="#3AB600" stroke-width="3.3" fill="none"/>
<path d="M193.92 1094.52V1139.74M241 1097.3V1143.22M288.08 1116.09V1168.68M335.16 1114V1167.29M382.24 1105.37V1158.94M476.4 1093.13V1167.98M523.48 1139.32V1183.15M570.56 1142.8V1187.04M617.64 1143.22V1187.74M664.72 1144.89V1188.71M711.8 1146V1189.83M758.88 1147.39V1190.52M805.96 1146.42V1189.83M853.04 1148.09V1190.1" stroke="#E69F00" stroke-width="3.3" fill="none"/>
<g fill="#7071C6" stroke="#7071C6">
<circle cx="177.44" cy="1126.52" r="8.5" fill="#FAFAFA" stroke-width="4.6"/>
<circle cx="224.52" cy="1137.37" r="8.55" stroke="none"/>
<circle cx="271.6" cy="1119.57" r="8.5" fill="#FAFAFA" stroke-width="4.6"/>
<circle cx="318.68" cy="1131.81" r="8.55" stroke="none"/>
<circle cx="365.76" cy="1124.85" r="8.5" fill="#FAFAFA" stroke-width="4.6"/>
<circle cx="414.21" cy="1087.98" r="8.5" fill="#FAFAFA" stroke-width="4.6"/>
<circle cx="459.92" cy="1142.8" r="8.55" stroke="none"/>
<circle cx="507" cy="1133.48" r="8.5" fill="#FAFAFA" stroke-width="4.6"/>
<circle cx="554.08" cy="1139.74" r="8.55" stroke="none"/>
<circle cx="601.16" cy="1141.41" r="8.55" stroke="none"/>
<circle cx="648.24" cy="1131.81" r="8.55" stroke="none"/>
<circle cx="695.32" cy="1146.7" r="8.55" stroke="none"/>
<circle cx="742.4" cy="1135.98" r="8.55" stroke="none"/>
<circle cx="789.48" cy="1142.8" r="8.55" stroke="none"/>
<circle cx="836.56" cy="1141.83" r="8.55" stroke="none"/>
</g>
<g fill="#05B9E8" stroke="#05B9E8">
<circle cx="185.68" cy="1109.13" r="8.5" fill="#FAFAFA" stroke-width="4.6"/>
<circle cx="232.76" cy="1111.22" r="8.5" fill="#FAFAFA" stroke-width="4.6"/>
<circle cx="279.84" cy="1115.39" r="8.5" fill="#FAFAFA" stroke-width="4.6"/>
<circle cx="326.92" cy="1117.48" r="8.5" fill="#FAFAFA" stroke-width="4.6"/>
<circle cx="374" cy="1114.97" r="8.5" fill="#FAFAFA" stroke-width="4.6"/>
<circle cx="425.2" cy="1118.87" r="8.5" fill="#FAFAFA" stroke-width="4.6"/>
<circle cx="468.16" cy="1117.2" r="8.5" fill="#FAFAFA" stroke-width="4.6"/>
<circle cx="515.24" cy="1117.48" r="8.5" fill="#FAFAFA" stroke-width="4.6"/>
<circle cx="562.32" cy="1116.37" r="8.5" fill="#FAFAFA" stroke-width="4.6"/>
<circle cx="609.4" cy="1116.09" r="8.5" fill="#FAFAFA" stroke-width="4.6"/>
<circle cx="656.48" cy="1114.97" r="8.5" fill="#FAFAFA" stroke-width="4.6"/>
<circle cx="703.56" cy="1115.39" r="8.5" fill="#FAFAFA" stroke-width="4.6"/>
<circle cx="750.64" cy="1116.37" r="8.5" fill="#FAFAFA" stroke-width="4.6"/>
<circle cx="797.72" cy="1117.76" r="8.5" fill="#FAFAFA" stroke-width="4.6"/>
<circle cx="844.8" cy="1118.17" r="8.5" fill="#FAFAFA" stroke-width="4.6"/>
</g>
<g fill="#3AB600" stroke="#3AB600">
<circle cx="202.16" cy="1136.96" r="8.55" stroke="none"/>
<circle cx="249.24" cy="1137.65" r="8.55" stroke="none"/>
<circle cx="296.32" cy="1144.19" r="8.55" stroke="none"/>
<circle cx="343.4" cy="1143.91" r="8.55" stroke="none"/>
<circle cx="390.48" cy="1080.33" r="8.55" stroke="none"/>
<circle cx="436.19" cy="1140.43" r="8.55" stroke="none"/>
<circle cx="484.64" cy="1148.78" r="8.55" stroke="none"/>
<circle cx="531.72" cy="1153.93" r="8.55" stroke="none"/>
<circle cx="578.8" cy="1166.45" r="8.55" stroke="none"/>
<circle cx="625.88" cy="1170.07" r="8.55" stroke="none"/>
<circle cx="672.96" cy="1166.87" r="8.55" stroke="none"/>
<circle cx="720.04" cy="1168.96" r="8.55" stroke="none"/>
<circle cx="767.12" cy="1164.09" r="8.55" stroke="none"/>
<circle cx="814.2" cy="1164.37" r="8.55" stroke="none"/>
<circle cx="861.28" cy="1166.87" r="8.55" stroke="none"/>
</g>
<g fill="#E69F00" stroke="#E69F00">
<circle cx="193.92" cy="1117.06" r="8.5" fill="#FAFAFA" stroke-width="4.6"/>
<circle cx="241" cy="1120.26" r="8.5" fill="#FAFAFA" stroke-width="4.6"/>
<circle cx="288.08" cy="1142.24" r="8.55" stroke="none"/>
<circle cx="335.16" cy="1140.43" r="8.55" stroke="none"/>
<circle cx="382.24" cy="1132.09" r="8.5" fill="#FAFAFA" stroke-width="4.6"/>
<circle cx="476.4" cy="1130.42" r="8.5" fill="#FAFAFA" stroke-width="4.6"/>
<circle cx="523.48" cy="1161.03" r="8.55" stroke="none"/>
<circle cx="570.56" cy="1164.78" r="8.55" stroke="none"/>
<circle cx="617.64" cy="1165.2" r="8.55" stroke="none"/>
<circle cx="664.72" cy="1166.87" r="8.55" stroke="none"/>
<circle cx="711.8" cy="1167.98" r="8.55" stroke="none"/>
<circle cx="758.88" cy="1168.68" r="8.55" stroke="none"/>
<circle cx="805.96" cy="1168.26" r="8.55" stroke="none"/>
<circle cx="853.04" cy="1168.96" r="8.55" stroke="none"/>
</g>
<path d="M162.2 1112.6H876.8" stroke="#000" stroke-width="3.25"/>
<path d="M401.66 1037.2V1197.45" stroke="#000" stroke-width="3.3"/>
<path d="M162.2 1197.45V1037.95H876.8" stroke="#979797" stroke-width="1.95" fill="none"/>
<path d="M162.8 1197.45H876.8V1038.6" stroke="#979797" stroke-width="3.15" fill="none" stroke-linejoin="round" stroke-linecap="round"/>
</g>
<g class="panel">
<rect x="898" y="1037.2" width="714.8" height="160.25" fill="#FAFAFA"/>
<path d="M920.02 1104.4V1114.14M967.04 1101.06V1110.8M1014.06 1109.13V1118.87M1061.08 1107.04V1116.78M1108.1 1102.87V1112.61M1155.12 1107.04V1133.48M1200.49 1094.52V1115.39M1247.51 1097.3V1122.35M1294.53 1098.7V1125.13M1341.55 1095.91V1126.52M1388.57 1097.3V1130M1435.59 1107.04V1139.74M1482.61 1084.92V1125.83M1529.63 1092.43V1132.78M1576.65 1090.35V1131.67" stroke="#7071C6" stroke-width="3.3" fill="none"/>
<path d="M926.6 1087.57V1109.27M973.62 1090.35V1115.39M1020.64 1097.3V1119.57M1067.66 1100.09V1109.83M1114.68 1093.13V1118.17M1161.7 1098.28V1128.33M1205.98 1093.41V1119.29M1253 1085.2V1116.37M1300.02 1078.52V1113.3M1347.04 1071.29V1110.8M1394.06 1064.19V1109.13M1441.08 1058.63V1110.52M1488.1 1053.48V1107.74M1535.12 1051.81V1109.13M1582.14 1049.03V1107.74" stroke="#05B9E8" stroke-width="3.3" fill="none"/>
<path d="M939.77 1105.37V1115.11M986.79 1104.26V1114M1033.81 1107.74V1117.48M1080.83 1114.7V1124.43M1127.85 1119.57V1129.3M1174.87 1104.96V1114.7M1216.95 1107.04V1116.78M1263.97 1107.04V1116.78M1310.99 1095.22V1120.26M1358.01 1093.13V1119.57M1405.03 1093.13V1125.13M1452.05 1091.32V1125.13M1499.07 1087.98V1121.93M1546.09 1086.45V1120.68M1593.11 1084.5V1120.68" stroke="#3AB600" stroke-width="3.3" fill="none"/>
<path d="M933.18 1085.06V1109.55M980.2 1077.41V1099.95M1027.22 1078.24V1100.5M1074.24 1084.09V1103.57M1121.26 1087.29V1108.71M1168.28 1100.09V1124.43M1211.46 1109.41V1119.15M1258.48 1109.83V1119.57M1305.5 1109.13V1118.87M1352.52 1109.55V1119.29M1399.54 1109.83V1119.57M1446.56 1109.41V1119.15M1493.58 1110.52V1120.26M1540.6 1110.52V1120.26M1587.62 1110.24V1119.98" stroke="#E69F00" stroke-width="3.3" fill="none"/>
<path d="M1222.43 1113.58V1146.42M1269.45 1106.07V1138.63M1316.47 1107.18V1136.68M1363.49 1124.16V1152.68M1410.51 1132.37V1158.8M1457.53 1133.06V1158.94M1504.55 1132.09V1158.52M1551.57 1130.28V1156.85M1598.59 1127.91V1154.77" stroke="#D55E00" stroke-width="3.3" fill="none"/>
<path d="M913.43 1102.45V1112.19M960.45 1107.04V1116.78M1007.47 1108.16V1117.9M1054.49 1113.58V1132.5M1101.51 1107.74V1117.48M1148.53 1109.13V1138.35M1195.01 1096.75V1122.35M1242.03 1092.43V1116.09M1289.05 1092.43V1115.25M1336.07 1088.26V1112.47M1383.09 1096.19V1132.09M1430.11 1084.37V1108.71M1477.13 1083.67V1107.04M1524.15 1077.13V1109.13M1571.17 1062.24V1098.7" stroke="#E76BF3" stroke-width="3.3" fill="none"/>
<g fill="#7071C6" stroke="#7071C6">
<circle cx="920.02" cy="1109.27" r="8.5" fill="#FAFAFA" stroke-width="4.6"/>
<circle cx="967.04" cy="1105.93" r="8.5" fill="#FAFAFA" stroke-width="4.6"/>
<circle cx="1014.06" cy="1114" r="8.5" fill="#FAFAFA" stroke-width="4.6"/>
<circle cx="1061.08" cy="1111.91" r="8.5" fill="#FAFAFA" stroke-width="4.6"/>
<circle cx="1108.1" cy="1107.74" r="8.5" fill="#FAFAFA" stroke-width="4.6"/>
<circle cx="1155.12" cy="1120.26" r="8.5" fill="#FAFAFA" stroke-width="4.6"/>
<circle cx="1200.49" cy="1104.96" r="8.5" fill="#FAFAFA" stroke-width="4.6"/>
<circle cx="1247.51" cy="1109.83" r="8.5" fill="#FAFAFA" stroke-width="4.6"/>
<circle cx="1294.53" cy="1111.91" r="8.5" fill="#FAFAFA" stroke-width="4.6"/>
<circle cx="1341.55" cy="1111.22" r="8.5" fill="#FAFAFA" stroke-width="4.6"/>
<circle cx="1388.57" cy="1113.3" r="8.5" fill="#FAFAFA" stroke-width="4.6"/>
<circle cx="1435.59" cy="1123.74" r="8.5" fill="#FAFAFA" stroke-width="4.6"/>
<circle cx="1482.61" cy="1105.37" r="8.5" fill="#FAFAFA" stroke-width="4.6"/>
<circle cx="1529.63" cy="1112.61" r="8.5" fill="#FAFAFA" stroke-width="4.6"/>
<circle cx="1576.65" cy="1111.22" r="8.5" fill="#FAFAFA" stroke-width="4.6"/>
</g>
<g fill="#05B9E8" stroke="#05B9E8">
<circle cx="926.6" cy="1098.42" r="8.55" stroke="none"/>
<circle cx="973.62" cy="1102.87" r="8.5" fill="#FAFAFA" stroke-width="4.6"/>
<circle cx="1020.64" cy="1108.43" r="8.5" fill="#FAFAFA" stroke-width="4.6"/>
<circle cx="1067.66" cy="1104.96" r="8.5" fill="#FAFAFA" stroke-width="4.6"/>
<circle cx="1114.68" cy="1105.65" r="8.5" fill="#FAFAFA" stroke-width="4.6"/>
<circle cx="1161.7" cy="1113.3" r="8.5" fill="#FAFAFA" stroke-width="4.6"/>
<circle cx="1205.98" cy="1106.35" r="8.5" fill="#FAFAFA" stroke-width="4.6"/>
<circle cx="1253" cy="1100.78" r="8.5" fill="#FAFAFA" stroke-width="4.6"/>
<circle cx="1300.02" cy="1095.91" r="8.5" fill="#FAFAFA" stroke-width="4.6"/>
<circle cx="1347.04" cy="1091.04" r="8.55" stroke="none"/>
<circle cx="1394.06" cy="1086.45" r="8.55" stroke="none"/>
<circle cx="1441.08" cy="1084.78" r="8.55" stroke="none"/>
<circle cx="1488.1" cy="1080.89" r="8.55" stroke="none"/>
<circle cx="1535.12" cy="1080.89" r="8.55" stroke="none"/>
<circle cx="1582.14" cy="1078.52" r="8.55" stroke="none"/>
</g>
<g fill="#3AB600" stroke="#3AB600">
<circle cx="939.77" cy="1110.24" r="8.5" fill="#FAFAFA" stroke-width="4.6"/>
<circle cx="986.79" cy="1109.13" r="8.5" fill="#FAFAFA" stroke-width="4.6"/>
<circle cx="1033.81" cy="1112.61" r="8.5" fill="#FAFAFA" stroke-width="4.6"/>
<circle cx="1080.83" cy="1119.57" r="8.5" fill="#FAFAFA" stroke-width="4.6"/>
<circle cx="1127.85" cy="1124.43" r="8.55" stroke="none"/>
<circle cx="1174.87" cy="1109.83" r="8.5" fill="#FAFAFA" stroke-width="4.6"/>
<circle cx="1216.95" cy="1111.91" r="8.5" fill="#FAFAFA" stroke-width="4.6"/>
<circle cx="1263.97" cy="1111.91" r="8.5" fill="#FAFAFA" stroke-width="4.6"/>
<circle cx="1310.99" cy="1107.74" r="8.5" fill="#FAFAFA" stroke-width="4.6"/>
<circle cx="1358.01" cy="1106.35" r="8.5" fill="#FAFAFA" stroke-width="4.6"/>
<circle cx="1405.03" cy="1108.43" r="8.5" fill="#FAFAFA" stroke-width="4.6"/>
<circle cx="1452.05" cy="1107.04" r="8.5" fill="#FAFAFA" stroke-width="4.6"/>
<circle cx="1499.07" cy="1104.96" r="8.5" fill="#FAFAFA" stroke-width="4.6"/>
<circle cx="1546.09" cy="1103.57" r="8.5" fill="#FAFAFA" stroke-width="4.6"/>
<circle cx="1593.11" cy="1102.59" r="8.5" fill="#FAFAFA" stroke-width="4.6"/>
</g>
<g fill="#E69F00" stroke="#E69F00">
<circle cx="933.18" cy="1097.3" r="8.55" stroke="none"/>
<circle cx="980.2" cy="1088.68" r="8.55" stroke="none"/>
<circle cx="1027.22" cy="1089.37" r="8.55" stroke="none"/>
<circle cx="1074.24" cy="1093.83" r="8.55" stroke="none"/>
<circle cx="1121.26" cy="1098" r="8.55" stroke="none"/>
<circle cx="1168.28" cy="1111.91" r="8.5" fill="#FAFAFA" stroke-width="4.6"/>
<circle cx="1211.46" cy="1114.28" r="8.5" fill="#FAFAFA" stroke-width="4.6"/>
<circle cx="1258.48" cy="1114.7" r="8.5" fill="#FAFAFA" stroke-width="4.6"/>
<circle cx="1305.5" cy="1114" r="8.5" fill="#FAFAFA" stroke-width="4.6"/>
<circle cx="1352.52" cy="1114.42" r="8.5" fill="#FAFAFA" stroke-width="4.6"/>
<circle cx="1399.54" cy="1114.7" r="8.5" fill="#FAFAFA" stroke-width="4.6"/>
<circle cx="1446.56" cy="1114.28" r="8.5" fill="#FAFAFA" stroke-width="4.6"/>
<circle cx="1493.58" cy="1115.39" r="8.5" fill="#FAFAFA" stroke-width="4.6"/>
<circle cx="1540.6" cy="1115.39" r="8.5" fill="#FAFAFA" stroke-width="4.6"/>
<circle cx="1587.62" cy="1115.11" r="8.5" fill="#FAFAFA" stroke-width="4.6"/>
</g>
<g fill="#D55E00" stroke="#D55E00">
<circle cx="1222.43" cy="1130" r="8.55" stroke="none"/>
<circle cx="1269.45" cy="1122.35" r="8.5" fill="#FAFAFA" stroke-width="4.6"/>
<circle cx="1316.47" cy="1121.93" r="8.5" fill="#FAFAFA" stroke-width="4.6"/>
<circle cx="1363.49" cy="1138.07" r="8.55" stroke="none"/>
<circle cx="1410.51" cy="1145.58" r="8.55" stroke="none"/>
<circle cx="1457.53" cy="1145.58" r="8.55" stroke="none"/>
<circle cx="1504.55" cy="1145.03" r="8.55" stroke="none"/>
<circle cx="1551.57" cy="1143.22" r="8.55" stroke="none"/>
<circle cx="1598.59" cy="1141.13" r="8.55" stroke="none"/>
</g>
<g fill="#E76BF3" stroke="#E76BF3">
<circle cx="913.43" cy="1107.32" r="8.5" fill="#FAFAFA" stroke-width="4.6"/>
<circle cx="960.45" cy="1111.91" r="8.5" fill="#FAFAFA" stroke-width="4.6"/>
<circle cx="1007.47" cy="1113.03" r="8.5" fill="#FAFAFA" stroke-width="4.6"/>
<circle cx="1054.49" cy="1123.04" r="8.55" stroke="none"/>
<circle cx="1101.51" cy="1112.61" r="8.5" fill="#FAFAFA" stroke-width="4.6"/>
<circle cx="1148.53" cy="1123.74" r="8.5" fill="#FAFAFA" stroke-width="4.6"/>
<circle cx="1195.01" cy="1109.55" r="8.5" fill="#FAFAFA" stroke-width="4.6"/>
<circle cx="1242.03" cy="1104.26" r="8.5" fill="#FAFAFA" stroke-width="4.6"/>
<circle cx="1289.05" cy="1103.84" r="8.5" fill="#FAFAFA" stroke-width="4.6"/>
<circle cx="1336.07" cy="1100.37" r="8.5" fill="#FAFAFA" stroke-width="4.6"/>
<circle cx="1383.09" cy="1114" r="8.5" fill="#FAFAFA" stroke-width="4.6"/>
<circle cx="1430.11" cy="1096.61" r="8.55" stroke="none"/>
<circle cx="1477.13" cy="1095.22" r="8.55" stroke="none"/>
<circle cx="1524.15" cy="1093.13" r="8.55" stroke="none"/>
<circle cx="1571.17" cy="1080.33" r="8.55" stroke="none"/>
</g>
<path d="M898.9 1112.6H1612.8" stroke="#000" stroke-width="3.25"/>
<path d="M1138.19 1037.2V1197.45" stroke="#000" stroke-width="3.3"/>
<path d="M898.9 1197.45V1037.95H1612.8" stroke="#979797" stroke-width="1.95" fill="none"/>
<path d="M899.5 1197.45H1612.8V1038.6" stroke="#979797" stroke-width="3.15" fill="none" stroke-linejoin="round" stroke-linecap="round"/>
</g>
<path d="M148.2 1073.6H161.4" stroke="#9a9a9a" stroke-width="1.45"/>
<text x="107.0" y="1085.5" font-size="32.9" text-anchor="middle">0.25</text>
<path d="M148.2 1112.6H161.4" stroke="#9a9a9a" stroke-width="1.45"/>
<text x="107.0" y="1124.5" font-size="32.9" text-anchor="middle">0.00</text>
<path d="M148.2 1151.6H161.4" stroke="#9a9a9a" stroke-width="1.45"/>
<text x="107.0" y="1163.5" font-size="32.9" text-anchor="middle">−0.25</text>
<path d="M148.2 1190.6H161.4" stroke="#9a9a9a" stroke-width="1.45"/>
<text x="107.0" y="1202.5" font-size="32.9" text-anchor="middle">−0.50</text>
<g class="st">
<rect x="161.25" y="66.3" width="715.65" height="61.95" fill="#D9D9D9"/>
<text x="473.80" y="102.9" font-size="27.2" textLength="47.01" lengthAdjust="spacing" fill="#1a1a1a">tree</text>
<text x="520.15" y="107.4" font-size="17.8" textLength="43.87" lengthAdjust="spacing" fill="#1a1a1a">alpha</text>
<rect x="897.95" y="66.3" width="714.95" height="61.95" fill="#D9D9D9"/>
<text x="1204.35" y="102.9" font-size="27.2" textLength="58.67" lengthAdjust="spacing" fill="#1a1a1a">plant</text>
<text x="1262.75" y="107.4" font-size="17.8" textLength="43.27" lengthAdjust="spacing" fill="#1a1a1a">alpha</text>
<rect x="1612.8" y="128.35" width="59.0" height="160.45" fill="#D9D9D9"/>
<text transform="translate(1634.7,181.15) rotate(90)" font-size="27.2" textLength="20.99" lengthAdjust="spacing" fill="#1a1a1a">H</text>
<text transform="translate(1630.0,200.35) rotate(90)" font-size="17.8" textLength="34.99" lengthAdjust="spacing" fill="#1a1a1a">max</text>
<rect x="1612.8" y="310.1" width="59.0" height="160.45" fill="#D9D9D9"/>
<text transform="translate(1632.8,364.80) rotate(90)" font-size="27.2" textLength="51.81" lengthAdjust="spacing" fill="#1a1a1a">tPAI</text>
<rect x="1612.8" y="491.85" width="59.0" height="160.45" fill="#D9D9D9"/>
<text transform="translate(1632.5,544.25) rotate(90)" font-size="27.2" textLength="54.74" lengthAdjust="spacing" fill="#1a1a1a">FHD</text>
<rect x="1612.8" y="673.6" width="59.0" height="160.45" fill="#D9D9D9"/>
<text transform="translate(1634.8,738.75) rotate(90)" font-size="27.2" textLength="20.49" lengthAdjust="spacing" fill="#1a1a1a">H</text>
<text transform="translate(1629.9,757.95) rotate(90)" font-size="17.8" textLength="10.94" lengthAdjust="spacing" fill="#1a1a1a">J</text>
<rect x="1612.8" y="855.35" width="59.0" height="160.45" fill="#D9D9D9"/>
<text transform="translate(1634.8,903.15) rotate(90)" font-size="27.2" textLength="47.61" lengthAdjust="spacing" fill="#1a1a1a">PAI</text>
<text transform="translate(1630.0,948.45) rotate(90)" font-size="17.8" textLength="19.38" lengthAdjust="spacing" fill="#1a1a1a">b2</text>
<rect x="1612.8" y="1037.1" width="59.0" height="160.45" fill="#D9D9D9"/>
<text transform="translate(1632.5,1089.25) rotate(90)" font-size="27.2" textLength="56.66" lengthAdjust="spacing" fill="#1a1a1a">VDR</text>
</g>
<g class="os">
<rect x="1676.1" y="162.2" width="49.5" height="274.2" fill="#D9D9D9"/>
<text transform="translate(1691.3,172.10) rotate(90)" font-size="29.2" textLength="252.13" lengthAdjust="spacing">canopy dimensions</text>
<rect x="1676.1" y="499.9" width="49.5" height="325.4" fill="#D9D9D9"/>
<text transform="translate(1691.3,511.00) rotate(90)" font-size="29.2" textLength="303.22" lengthAdjust="spacing">structural heterogeneity</text>
<rect x="1676.1" y="885.2" width="49.5" height="284.2" fill="#D9D9D9"/>
<text transform="translate(1691.3,897.40) rotate(90)" font-size="29.2" textLength="260.06" lengthAdjust="spacing">spatial configuration</text>
</g>
<path d="M189.8 1198.95V1210.75" stroke="#9a9a9a" stroke-width="1.45"/>
<text transform="translate(212.36,1221.64) rotate(-45)" font-size="30.3" text-anchor="end" textLength="114.96" lengthAdjust="spacing">basePlot</text>
<path d="M236.88 1198.95V1210.75" stroke="#9a9a9a" stroke-width="1.45"/>
<text transform="translate(255.55,1226.43) rotate(-45)" font-size="30.3" text-anchor="end" textLength="57.49" lengthAdjust="spacing">12.5</text>
<path d="M283.96 1198.95V1210.75" stroke="#9a9a9a" stroke-width="1.45"/>
<text transform="translate(300.96,1228.1) rotate(-45)" font-size="30.3" text-anchor="end" textLength="32.86" lengthAdjust="spacing">25</text>
<path d="M331.04 1198.95V1210.75" stroke="#9a9a9a" stroke-width="1.45"/>
<text transform="translate(349.71,1226.43) rotate(-45)" font-size="30.3" text-anchor="end" textLength="57.49" lengthAdjust="spacing">37.5</text>
<path d="M378.12 1198.95V1210.75" stroke="#9a9a9a" stroke-width="1.45"/>
<text transform="translate(395.12,1227.2) rotate(-45)" font-size="30.3" text-anchor="end" textLength="32.86" lengthAdjust="spacing">50</text>
<path d="M425.2 1198.95V1210.75" stroke="#9a9a9a" stroke-width="1.45"/>
<text transform="translate(443.31,1226.09) rotate(-45)" font-size="30.3" text-anchor="end" textLength="49.30" lengthAdjust="spacing">200</text>
<path d="M472.28 1198.95V1210.75" stroke="#9a9a9a" stroke-width="1.45"/>
<text transform="translate(490.39,1226.09) rotate(-45)" font-size="30.3" text-anchor="end" textLength="49.30" lengthAdjust="spacing">400</text>
<path d="M519.36 1198.95V1210.75" stroke="#9a9a9a" stroke-width="1.45"/>
<text transform="translate(537.47,1226.09) rotate(-45)" font-size="30.3" text-anchor="end" textLength="49.30" lengthAdjust="spacing">700</text>
<path d="M566.44 1198.95V1210.75" stroke="#9a9a9a" stroke-width="1.45"/>
<text transform="translate(585.52,1225.12) rotate(-45)" font-size="30.3" text-anchor="end" textLength="63.53" lengthAdjust="spacing">1100</text>
<path d="M613.52 1198.95V1210.75" stroke="#9a9a9a" stroke-width="1.45"/>
<text transform="translate(632.74,1224.98) rotate(-45)" font-size="30.3" text-anchor="end" textLength="65.72" lengthAdjust="spacing">1600</text>
<path d="M660.6 1198.95V1210.75" stroke="#9a9a9a" stroke-width="1.45"/>
<text transform="translate(679.82,1224.98) rotate(-45)" font-size="30.3" text-anchor="end" textLength="65.72" lengthAdjust="spacing">2200</text>
<path d="M707.68 1198.95V1210.75" stroke="#9a9a9a" stroke-width="1.45"/>
<text transform="translate(726.9,1224.98) rotate(-45)" font-size="30.3" text-anchor="end" textLength="65.72" lengthAdjust="spacing">2900</text>
<path d="M754.76 1198.95V1210.75" stroke="#9a9a9a" stroke-width="1.45"/>
<text transform="translate(773.98,1224.98) rotate(-45)" font-size="30.3" text-anchor="end" textLength="65.72" lengthAdjust="spacing">3700</text>
<path d="M801.84 1198.95V1210.75" stroke="#9a9a9a" stroke-width="1.45"/>
<text transform="translate(821.06,1224.98) rotate(-45)" font-size="30.3" text-anchor="end" textLength="65.72" lengthAdjust="spacing">4600</text>
<path d="M848.92 1198.95V1210.75" stroke="#9a9a9a" stroke-width="1.45"/>
<text transform="translate(868.14,1224.98) rotate(-45)" font-size="30.3" text-anchor="end" textLength="65.72" lengthAdjust="spacing">5600</text>
<path d="M926.6 1198.95V1210.75" stroke="#9a9a9a" stroke-width="1.45"/>
<text transform="translate(949.16,1221.64) rotate(-45)" font-size="30.3" text-anchor="end" textLength="114.96" lengthAdjust="spacing">basePlot</text>
<path d="M973.62 1198.95V1210.75" stroke="#9a9a9a" stroke-width="1.45"/>
<text transform="translate(992.29,1226.43) rotate(-45)" font-size="30.3" text-anchor="end" textLength="57.49" lengthAdjust="spacing">12.5</text>
<path d="M1020.64 1198.95V1210.75" stroke="#9a9a9a" stroke-width="1.45"/>
<text transform="translate(1037.64,1228.1) rotate(-45)" font-size="30.3" text-anchor="end" textLength="32.86" lengthAdjust="spacing">25</text>
<path d="M1067.66 1198.95V1210.75" stroke="#9a9a9a" stroke-width="1.45"/>
<text transform="translate(1086.33,1226.43) rotate(-45)" font-size="30.3" text-anchor="end" textLength="57.49" lengthAdjust="spacing">37.5</text>
<path d="M1114.68 1198.95V1210.75" stroke="#9a9a9a" stroke-width="1.45"/>
<text transform="translate(1131.68,1227.2) rotate(-45)" font-size="30.3" text-anchor="end" textLength="32.86" lengthAdjust="spacing">50</text>
<path d="M1161.7 1198.95V1210.75" stroke="#9a9a9a" stroke-width="1.45"/>
<text transform="translate(1179.81,1226.09) rotate(-45)" font-size="30.3" text-anchor="end" textLength="49.30" lengthAdjust="spacing">200</text>
<path d="M1208.72 1198.95V1210.75" stroke="#9a9a9a" stroke-width="1.45"/>
<text transform="translate(1226.83,1226.09) rotate(-45)" font-size="30.3" text-anchor="end" textLength="49.30" lengthAdjust="spacing">400</text>
<path d="M1255.74 1198.95V1210.75" stroke="#9a9a9a" stroke-width="1.45"/>
<text transform="translate(1273.85,1226.09) rotate(-45)" font-size="30.3" text-anchor="end" textLength="49.30" lengthAdjust="spacing">700</text>
<path d="M1302.76 1198.95V1210.75" stroke="#9a9a9a" stroke-width="1.45"/>
<text transform="translate(1321.84,1225.12) rotate(-45)" font-size="30.3" text-anchor="end" textLength="63.53" lengthAdjust="spacing">1100</text>
<path d="M1349.78 1198.95V1210.75" stroke="#9a9a9a" stroke-width="1.45"/>
<text transform="translate(1369,1224.98) rotate(-45)" font-size="30.3" text-anchor="end" textLength="65.72" lengthAdjust="spacing">1600</text>
<path d="M1396.8 1198.95V1210.75" stroke="#9a9a9a" stroke-width="1.45"/>
<text transform="translate(1416.02,1224.98) rotate(-45)" font-size="30.3" text-anchor="end" textLength="65.72" lengthAdjust="spacing">2200</text>
<path d="M1443.82 1198.95V1210.75" stroke="#9a9a9a" stroke-width="1.45"/>
<text transform="translate(1463.04,1224.98) rotate(-45)" font-size="30.3" text-anchor="end" textLength="65.72" lengthAdjust="spacing">2900</text>
<path d="M1490.84 1198.95V1210.75" stroke="#9a9a9a" stroke-width="1.45"/>
<text transform="translate(1510.06,1224.98) rotate(-45)" font-size="30.3" text-anchor="end" textLength="65.72" lengthAdjust="spacing">3700</text>
<path d="M1537.86 1198.95V1210.75" stroke="#9a9a9a" stroke-width="1.45"/>
<text transform="translate(1557.08,1224.98) rotate(-45)" font-size="30.3" text-anchor="end" textLength="65.72" lengthAdjust="spacing">4600</text>
<path d="M1584.88 1198.95V1210.75" stroke="#9a9a9a" stroke-width="1.45"/>
<text transform="translate(1604.1,1224.98) rotate(-45)" font-size="30.3" text-anchor="end" textLength="65.72" lengthAdjust="spacing">5600</text>
<text class="ti" x="676.70" y="1340.6" font-size="35.6" textLength="421.96" lengthAdjust="spacing">spatial scales (radius in m)</text>
<text class="bt" transform="translate(24.6,678.7) rotate(-90) scale(0.86,1)" font-size="35.5">β</text>
<text class="bt" transform="translate(31.3,658.9) rotate(-90) scale(0.68,1)" font-size="23.5">1</text>
<g class="lg">
<path d="M138.1 8.2V49.6" stroke="#D55E00" stroke-width="3.4"/>
<circle cx="138.1" cy="28.9" r="10.7" fill="#D55E00"/>
<text x="171.40" y="38.9" font-size="30.0" textLength="89.26" lengthAdjust="spacing">Desert</text>
<path d="M295.1 8.2V49.6" stroke="#3AB600" stroke-width="3.4"/>
<circle cx="295.1" cy="28.9" r="10.7" fill="#3AB600"/>
<text x="328.50" y="38.9" font-size="30.0" textLength="210.20" lengthAdjust="spacing">Eastern Forests</text>
<path d="M572.8 8.2V49.6" stroke="#E69F00" stroke-width="3.4"/>
<circle cx="572.8" cy="28.9" r="10.7" fill="#E69F00"/>
<text x="606.30" y="38.9" font-size="30.0" textLength="164.58" lengthAdjust="spacing">Great Plains</text>
<path d="M804.5 8.2V49.6" stroke="#05B9E8" stroke-width="3.4"/>
<circle cx="804.5" cy="28.9" r="10.7" fill="#05B9E8"/>
<text x="838.10" y="38.9" font-size="30.0" textLength="224.58" lengthAdjust="spacing">Northern Forests</text>
<path d="M1096.6 8.2V49.6" stroke="#7071C6" stroke-width="3.4"/>
<circle cx="1096.6" cy="28.9" r="10.7" fill="#7071C6"/>
<text x="1129.80" y="38.9" font-size="30.0" textLength="195.58" lengthAdjust="spacing">NW Mountains</text>
<path d="M1359.5 8.2V49.6" stroke="#E76BF3" stroke-width="3.4"/>
<circle cx="1359.5" cy="28.9" r="10.7" fill="#E76BF3"/>
<text x="1393.75" y="38.9" font-size="30.0" textLength="269.03" lengthAdjust="spacing">Tropical Wet Forests</text>
</g>
</svg>
</body></html>
